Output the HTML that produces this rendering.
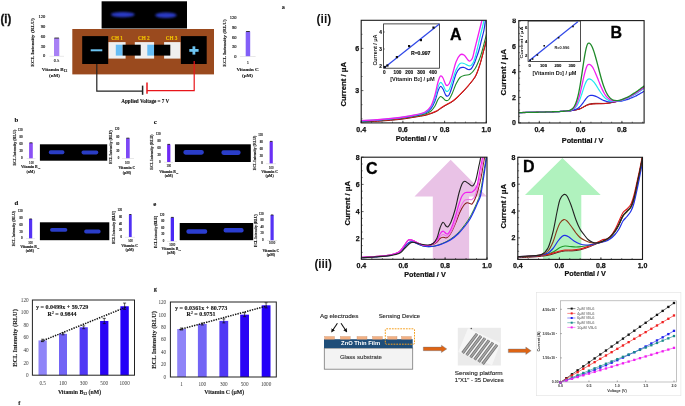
<!DOCTYPE html>
<html><head><meta charset="utf-8"><title>Figure</title>
<style>html,body{margin:0;padding:0;background:#fff;width:685px;height:406px;overflow:hidden} svg{filter:blur(0.45px)}</style>
</head><body>
<svg width="685" height="406" viewBox="0 0 685 406" style="display:block">
<defs><filter id="bl" x="-30%" y="-80%" width="160%" height="260%"><feGaussianBlur stdDeviation="0.6"/></filter><filter id="bl3" x="-40%" y="-100%" width="180%" height="300%"><feGaussianBlur stdDeviation="1.1"/></filter><filter id="bl2" x="-10%" y="-10%" width="120%" height="120%"><feGaussianBlur stdDeviation="0.45"/></filter><clipPath id="cA"><rect x="361.2" y="20.3" width="125.1" height="102.6"/></clipPath><clipPath id="cB"><rect x="518.8" y="20.6" width="125.3" height="102.4"/></clipPath><clipPath id="cC"><rect x="361.4" y="157.2" width="125.6" height="102.1"/></clipPath><clipPath id="cD"><rect x="517.8" y="157.3" width="124.7" height="102.1"/></clipPath></defs>
<rect x="0.00" y="0.00" width="685.00" height="406.00" fill="#fff"/>
<text x="0.5" y="22.5" font-size="13" font-weight="bold" font-family="'Liberation Sans', sans-serif" fill="#111" stroke="#111" stroke-width="0.35" textLength="10.8" lengthAdjust="spacingAndGlyphs">(i)</text>
<rect x="101.60" y="1.30" width="85.40" height="27.20" fill="#000"/>
<ellipse cx="122.8" cy="14.6" rx="12" ry="2.7" fill="#2a3ac4" filter="url(#bl3)"/>
<ellipse cx="165.9" cy="15.3" rx="10.8" ry="2.8" fill="#2a3ac4" filter="url(#bl3)"/>
<rect x="72.30" y="29.00" width="141.70" height="45.40" fill="#9a4a1e"/>
<rect x="82.20" y="36.10" width="26.00" height="27.90" fill="#000"/>
<rect x="180.90" y="36.10" width="25.80" height="27.90" fill="#000"/>
<rect x="90.70" y="49.30" width="11.60" height="2.00" fill="#6cc4f2"/>
<rect x="189.30" y="49.00" width="9.30" height="2.80" fill="#6cc4f2"/>
<rect x="192.50" y="46.30" width="2.80" height="8.30" fill="#6cc4f2"/>
<rect x="108.50" y="42.10" width="17.10" height="16.50" fill="#efefef"/>
<rect x="134.80" y="42.10" width="19.30" height="16.50" fill="#efefef"/>
<rect x="164.10" y="42.10" width="16.30" height="16.50" fill="#efefef"/>
<rect x="115.80" y="44.70" width="6.80" height="10.90" fill="#66bdf5"/>
<rect x="147.30" y="44.70" width="6.80" height="10.90" fill="#66bdf5"/>
<rect x="122.60" y="44.70" width="18.10" height="10.90" fill="#000"/>
<rect x="154.10" y="44.70" width="16.20" height="10.90" fill="#000"/>
<text x="117.00" y="40.27" font-size="5.2" text-anchor="middle" font-weight="bold" font-family="'Liberation Serif', serif" fill="#f2c200" stroke="#f2c200" stroke-width="0.15">CH 1</text>
<text x="143.80" y="40.27" font-size="5.2" text-anchor="middle" font-weight="bold" font-family="'Liberation Serif', serif" fill="#f2c200" stroke="#f2c200" stroke-width="0.15">CH 2</text>
<text x="171.60" y="40.27" font-size="5.2" text-anchor="middle" font-weight="bold" font-family="'Liberation Serif', serif" fill="#f2c200" stroke="#f2c200" stroke-width="0.15">CH 3</text>
<polyline points="96.8,64 96.8,91.1 142.4,91.1" fill="none" stroke="#222" stroke-width="1.2"/>
<line x1="142.60" y1="85.60" x2="142.60" y2="94.80" stroke="#222" stroke-width="1.5"/>
<line x1="147.00" y1="82.50" x2="147.00" y2="93.80" stroke="#e8141a" stroke-width="1.5"/>
<polyline points="147,90.7 194.2,90.7 194.2,61" fill="none" stroke="#e8141a" stroke-width="1.2"/>
<text x="145.30" y="103.09" font-size="5.8" text-anchor="middle" font-weight="bold" font-family="'Liberation Serif', serif" fill="#111" stroke="#222" stroke-width="0.12" textLength="48" lengthAdjust="spacingAndGlyphs">Applied Voltage = 7 V</text>
<text x="283.30" y="9.43" font-size="6.2" text-anchor="middle" font-weight="bold" font-family="'Liberation Serif', serif" fill="#222" stroke="#222" stroke-width="0.12">a</text>
<text x="32.90" y="42.50" font-size="4.73" text-anchor="middle" font-weight="bold" font-family="'Liberation Serif', serif" fill="#222" stroke="#222" stroke-width="0.12" transform="rotate(-90 32.90 42.50)" dy="1.49" textLength="48.60" lengthAdjust="spacingAndGlyphs">ECL Intensity (RLU)</text>
<text x="45.30" y="18.23" font-size="4.5" text-anchor="end" font-family="'Liberation Serif', serif" fill="#222" stroke="#333" stroke-width="0.18">120</text>
<text x="45.30" y="28.23" font-size="4.5" text-anchor="end" font-family="'Liberation Serif', serif" fill="#222" stroke="#333" stroke-width="0.18">90</text>
<text x="45.30" y="38.03" font-size="4.5" text-anchor="end" font-family="'Liberation Serif', serif" fill="#222" stroke="#333" stroke-width="0.18">60</text>
<text x="45.30" y="47.63" font-size="4.5" text-anchor="end" font-family="'Liberation Serif', serif" fill="#222" stroke="#333" stroke-width="0.18">30</text>
<text x="45.30" y="57.43" font-size="4.5" text-anchor="end" font-family="'Liberation Serif', serif" fill="#222" stroke="#333" stroke-width="0.18">0</text>
<line x1="49.50" y1="56.30" x2="64.00" y2="56.30" stroke="#d8d8d8" stroke-width="0.6"/>
<rect x="54.00" y="38.10" width="5.30" height="17.90" fill="#a880f5"/>
<rect x="54.40" y="37.60" width="4.50" height="0.9" fill="#222"/>
<text x="56.50" y="62.03" font-size="4.5" text-anchor="middle" font-family="'Liberation Serif', serif" fill="#333" stroke="#222" stroke-width="0.12">0.5</text>
<text x="54.50" y="71.30" font-size="5.0" text-anchor="middle" font-weight="bold" font-family="'Liberation Serif', serif" fill="#111" stroke="#222" stroke-width="0.12">Vitamin B<tspan font-size="3.50" dy="1.10">12</tspan></text>
<text x="54.50" y="77.10" font-size="5.0" text-anchor="middle" font-weight="bold" font-family="'Liberation Serif', serif" fill="#111" stroke="#222" stroke-width="0.12">(nM)</text>
<text x="224.30" y="43.00" font-size="4.73" text-anchor="middle" font-weight="bold" font-family="'Liberation Serif', serif" fill="#222" stroke="#222" stroke-width="0.12" transform="rotate(-90 224.30 43.00)" dy="1.49" textLength="47.60" lengthAdjust="spacingAndGlyphs">ECL Intensity (RLU)</text>
<text x="236.40" y="18.63" font-size="4.5" text-anchor="end" font-family="'Liberation Serif', serif" fill="#222" stroke="#333" stroke-width="0.18">120</text>
<text x="236.40" y="28.83" font-size="4.5" text-anchor="end" font-family="'Liberation Serif', serif" fill="#222" stroke="#333" stroke-width="0.18">90</text>
<text x="236.40" y="38.73" font-size="4.5" text-anchor="end" font-family="'Liberation Serif', serif" fill="#222" stroke="#333" stroke-width="0.18">60</text>
<text x="236.40" y="48.23" font-size="4.5" text-anchor="end" font-family="'Liberation Serif', serif" fill="#222" stroke="#333" stroke-width="0.18">30</text>
<text x="236.40" y="57.73" font-size="4.5" text-anchor="end" font-family="'Liberation Serif', serif" fill="#222" stroke="#333" stroke-width="0.18">0</text>
<line x1="240.00" y1="56.50" x2="255.60" y2="56.50" stroke="#d8d8d8" stroke-width="0.6"/>
<rect x="245.70" y="31.60" width="4.50" height="24.60" fill="#825ff8"/>
<rect x="246.10" y="31.10" width="3.70" height="0.9" fill="#222"/>
<text x="247.80" y="64.13" font-size="4.5" text-anchor="middle" font-family="'Liberation Serif', serif" fill="#333" stroke="#222" stroke-width="0.12">1</text>
<text x="247.50" y="71.30" font-size="5.0" text-anchor="middle" font-weight="bold" font-family="'Liberation Serif', serif" fill="#111" stroke="#222" stroke-width="0.12">Vitamin C</text>
<text x="247.50" y="77.10" font-size="5.0" text-anchor="middle" font-weight="bold" font-family="'Liberation Serif', serif" fill="#111" stroke="#222" stroke-width="0.12">(μM)</text>
<text x="16.40" y="122.25" font-size="6.8" text-anchor="middle" font-weight="bold" font-family="'Liberation Serif', serif" fill="#111" stroke="#222" stroke-width="0.12">b</text>
<text x="14.50" y="147.65" font-size="3.26" text-anchor="middle" font-weight="bold" font-family="'Liberation Serif', serif" fill="#222" stroke="#222" stroke-width="0.12" transform="rotate(-90 14.50 147.65)" dy="1.02" textLength="35.90" lengthAdjust="spacingAndGlyphs">ECL Intensity (RLU)</text>
<text x="22.60" y="131.25" font-size="3.1" text-anchor="end" font-family="'Liberation Serif', serif" fill="#222" stroke="#333" stroke-width="0.18">120</text>
<text x="22.60" y="138.15" font-size="3.1" text-anchor="end" font-family="'Liberation Serif', serif" fill="#222" stroke="#333" stroke-width="0.18">80</text>
<text x="22.60" y="145.15" font-size="3.1" text-anchor="end" font-family="'Liberation Serif', serif" fill="#222" stroke="#333" stroke-width="0.18">60</text>
<text x="22.60" y="152.15" font-size="3.1" text-anchor="end" font-family="'Liberation Serif', serif" fill="#222" stroke="#333" stroke-width="0.18">30</text>
<text x="22.60" y="159.05" font-size="3.1" text-anchor="end" font-family="'Liberation Serif', serif" fill="#222" stroke="#333" stroke-width="0.18">0</text>
<line x1="26.60" y1="158.60" x2="35.40" y2="158.60" stroke="#d8d8d8" stroke-width="0.6"/>
<rect x="29.10" y="142.90" width="3.70" height="15.40" fill="#8a50f5"/>
<rect x="29.50" y="142.40" width="2.90" height="0.9" fill="#222"/>
<text x="31.40" y="163.85" font-size="3.1" text-anchor="middle" font-family="'Liberation Serif', serif" fill="#333" stroke="#222" stroke-width="0.12">100</text>
<text x="30.60" y="168.49" font-size="3.8" text-anchor="middle" font-weight="bold" font-family="'Liberation Serif', serif" fill="#111" stroke="#222" stroke-width="0.12">Vitamin B<tspan font-size="2.66" dy="0.84">12</tspan></text>
<text x="30.60" y="172.69" font-size="3.8" text-anchor="middle" font-weight="bold" font-family="'Liberation Serif', serif" fill="#111" stroke="#222" stroke-width="0.12">(nM)</text>
<rect x="39.90" y="144.30" width="67.30" height="16.40" fill="#000"/>
<rect x="48.80" y="150.20" width="15.60" height="4.00" rx="1.80" fill="#2a3cc4" filter="url(#bl)"/>
<rect x="81.50" y="150.40" width="16.80" height="4.00" rx="1.80" fill="#2a3cc4" filter="url(#bl)"/>
<text x="111.00" y="147.00" font-size="3.26" text-anchor="middle" font-weight="bold" font-family="'Liberation Serif', serif" fill="#222" stroke="#222" stroke-width="0.12" transform="rotate(-90 111.00 147.00)" dy="1.02" textLength="33.60" lengthAdjust="spacingAndGlyphs">ECL Intensity (RLU)</text>
<text x="119.30" y="130.45" font-size="3.1" text-anchor="end" font-family="'Liberation Serif', serif" fill="#222" stroke="#333" stroke-width="0.18">120</text>
<text x="119.30" y="137.65" font-size="3.1" text-anchor="end" font-family="'Liberation Serif', serif" fill="#222" stroke="#333" stroke-width="0.18">80</text>
<text x="119.30" y="145.15" font-size="3.1" text-anchor="end" font-family="'Liberation Serif', serif" fill="#222" stroke="#333" stroke-width="0.18">60</text>
<text x="119.30" y="152.05" font-size="3.1" text-anchor="end" font-family="'Liberation Serif', serif" fill="#222" stroke="#333" stroke-width="0.18">30</text>
<text x="119.30" y="159.25" font-size="3.1" text-anchor="end" font-family="'Liberation Serif', serif" fill="#222" stroke="#333" stroke-width="0.18">0</text>
<line x1="122.00" y1="158.50" x2="134.00" y2="158.50" stroke="#d8d8d8" stroke-width="0.6"/>
<rect x="126.00" y="138.20" width="3.70" height="20.00" fill="#7c48f6"/>
<rect x="126.40" y="137.70" width="2.90" height="0.9" fill="#222"/>
<text x="127.30" y="163.75" font-size="3.1" text-anchor="middle" font-family="'Liberation Serif', serif" fill="#333" stroke="#222" stroke-width="0.12">100</text>
<text x="126.90" y="169.19" font-size="3.8" text-anchor="middle" font-weight="bold" font-family="'Liberation Serif', serif" fill="#111" stroke="#222" stroke-width="0.12">Vitamin C</text>
<text x="126.90" y="173.59" font-size="3.8" text-anchor="middle" font-weight="bold" font-family="'Liberation Serif', serif" fill="#111" stroke="#222" stroke-width="0.12">(μM)</text>
<text x="155.20" y="123.55" font-size="6.8" text-anchor="middle" font-weight="bold" font-family="'Liberation Serif', serif" fill="#111" stroke="#222" stroke-width="0.12">c</text>
<text x="152.20" y="152.05" font-size="3.26" text-anchor="middle" font-weight="bold" font-family="'Liberation Serif', serif" fill="#222" stroke="#222" stroke-width="0.12" transform="rotate(-90 152.20 152.05)" dy="1.02" textLength="35.30" lengthAdjust="spacingAndGlyphs">ECL Intensity (RLU)</text>
<text x="160.60" y="134.85" font-size="3.1" text-anchor="end" font-family="'Liberation Serif', serif" fill="#222" stroke="#333" stroke-width="0.18">120</text>
<text x="160.60" y="141.85" font-size="3.1" text-anchor="end" font-family="'Liberation Serif', serif" fill="#222" stroke="#333" stroke-width="0.18">80</text>
<text x="160.60" y="148.95" font-size="3.1" text-anchor="end" font-family="'Liberation Serif', serif" fill="#222" stroke="#333" stroke-width="0.18">60</text>
<text x="160.60" y="155.95" font-size="3.1" text-anchor="end" font-family="'Liberation Serif', serif" fill="#222" stroke="#333" stroke-width="0.18">30</text>
<text x="160.60" y="163.05" font-size="3.1" text-anchor="end" font-family="'Liberation Serif', serif" fill="#222" stroke="#333" stroke-width="0.18">0</text>
<line x1="164.00" y1="162.30" x2="173.00" y2="162.30" stroke="#d8d8d8" stroke-width="0.6"/>
<rect x="167.10" y="144.40" width="3.30" height="17.60" fill="#6e28f5"/>
<rect x="167.50" y="143.90" width="2.50" height="0.9" fill="#222"/>
<text x="168.80" y="167.25" font-size="3.1" text-anchor="middle" font-family="'Liberation Serif', serif" fill="#333" stroke="#222" stroke-width="0.12">100</text>
<text x="168.80" y="173.19" font-size="3.8" text-anchor="middle" font-weight="bold" font-family="'Liberation Serif', serif" fill="#111" stroke="#222" stroke-width="0.12">Vitamin B<tspan font-size="2.66" dy="0.84">12</tspan></text>
<text x="168.80" y="177.49" font-size="3.8" text-anchor="middle" font-weight="bold" font-family="'Liberation Serif', serif" fill="#111" stroke="#222" stroke-width="0.12">(nM)</text>
<rect x="174.90" y="144.30" width="75.90" height="17.70" fill="#000"/>
<rect x="183.40" y="149.90" width="20.40" height="4.80" rx="2.16" fill="#2a3cc8" filter="url(#bl)"/>
<rect x="221.40" y="150.20" width="19.20" height="4.80" rx="2.16" fill="#2a3cc8" filter="url(#bl)"/>
<text x="254.50" y="153.05" font-size="3.26" text-anchor="middle" font-weight="bold" font-family="'Liberation Serif', serif" fill="#222" stroke="#222" stroke-width="0.12" transform="rotate(-90 254.50 153.05)" dy="1.02" textLength="34.50" lengthAdjust="spacingAndGlyphs">ECL Intensity (RLU)</text>
<text x="262.80" y="136.05" font-size="3.1" text-anchor="end" font-family="'Liberation Serif', serif" fill="#222" stroke="#333" stroke-width="0.18">120</text>
<text x="262.80" y="143.25" font-size="3.1" text-anchor="end" font-family="'Liberation Serif', serif" fill="#222" stroke="#333" stroke-width="0.18">80</text>
<text x="262.80" y="150.15" font-size="3.1" text-anchor="end" font-family="'Liberation Serif', serif" fill="#222" stroke="#333" stroke-width="0.18">60</text>
<text x="262.80" y="157.35" font-size="3.1" text-anchor="end" font-family="'Liberation Serif', serif" fill="#222" stroke="#333" stroke-width="0.18">30</text>
<text x="262.80" y="164.45" font-size="3.1" text-anchor="end" font-family="'Liberation Serif', serif" fill="#222" stroke="#333" stroke-width="0.18">0</text>
<line x1="266.00" y1="163.70" x2="276.00" y2="163.70" stroke="#d8d8d8" stroke-width="0.6"/>
<rect x="269.60" y="141.40" width="3.20" height="22.00" fill="#6a30f5"/>
<rect x="270.00" y="140.90" width="2.40" height="0.9" fill="#222"/>
<text x="271.20" y="168.55" font-size="3.1" text-anchor="middle" font-family="'Liberation Serif', serif" fill="#333" stroke="#222" stroke-width="0.12">100</text>
<text x="269.60" y="172.69" font-size="3.8" text-anchor="middle" font-weight="bold" font-family="'Liberation Serif', serif" fill="#111" stroke="#222" stroke-width="0.12">Vitamin C</text>
<text x="269.60" y="176.79" font-size="3.8" text-anchor="middle" font-weight="bold" font-family="'Liberation Serif', serif" fill="#111" stroke="#222" stroke-width="0.12">(μM)</text>
<text x="16.40" y="204.85" font-size="6.8" text-anchor="middle" font-weight="bold" font-family="'Liberation Serif', serif" fill="#111" stroke="#222" stroke-width="0.12">d</text>
<text x="14.30" y="228.65" font-size="3.26" text-anchor="middle" font-weight="bold" font-family="'Liberation Serif', serif" fill="#222" stroke="#222" stroke-width="0.12" transform="rotate(-90 14.30 228.65)" dy="1.02" textLength="35.30" lengthAdjust="spacingAndGlyphs">ECL Intensity (RLU)</text>
<text x="22.60" y="212.05" font-size="3.1" text-anchor="end" font-family="'Liberation Serif', serif" fill="#222" stroke="#333" stroke-width="0.18">120</text>
<text x="22.60" y="219.25" font-size="3.1" text-anchor="end" font-family="'Liberation Serif', serif" fill="#222" stroke="#333" stroke-width="0.18">80</text>
<text x="22.60" y="226.15" font-size="3.1" text-anchor="end" font-family="'Liberation Serif', serif" fill="#222" stroke="#333" stroke-width="0.18">60</text>
<text x="22.60" y="232.95" font-size="3.1" text-anchor="end" font-family="'Liberation Serif', serif" fill="#222" stroke="#333" stroke-width="0.18">20</text>
<text x="22.60" y="239.35" font-size="3.1" text-anchor="end" font-family="'Liberation Serif', serif" fill="#222" stroke="#333" stroke-width="0.18">0</text>
<line x1="26.00" y1="238.60" x2="35.00" y2="238.60" stroke="#d8d8d8" stroke-width="0.6"/>
<rect x="29.00" y="219.00" width="3.20" height="19.30" fill="#5532f5"/>
<rect x="29.40" y="218.50" width="2.40" height="0.9" fill="#222"/>
<text x="30.60" y="243.85" font-size="3.1" text-anchor="middle" font-family="'Liberation Serif', serif" fill="#333" stroke="#222" stroke-width="0.12">300</text>
<text x="29.80" y="247.89" font-size="3.8" text-anchor="middle" font-weight="bold" font-family="'Liberation Serif', serif" fill="#111" stroke="#222" stroke-width="0.12">Vitamin B<tspan font-size="2.66" dy="0.84">12</tspan></text>
<text x="29.80" y="252.39" font-size="3.8" text-anchor="middle" font-weight="bold" font-family="'Liberation Serif', serif" fill="#111" stroke="#222" stroke-width="0.12">(nM)</text>
<rect x="39.90" y="222.30" width="69.40" height="17.90" fill="#000"/>
<rect x="50.10" y="228.00" width="17.20" height="3.80" rx="1.71" fill="#2a3cc8" filter="url(#bl)"/>
<rect x="84.20" y="229.50" width="16.40" height="4.00" rx="1.80" fill="#2a3cc8" filter="url(#bl)"/>
<text x="114.10" y="227.40" font-size="3.26" text-anchor="middle" font-weight="bold" font-family="'Liberation Serif', serif" fill="#222" stroke="#222" stroke-width="0.12" transform="rotate(-90 114.10 227.40)" dy="1.02" textLength="32.80" lengthAdjust="spacingAndGlyphs">ECL Intensity (RLU)</text>
<text x="122.10" y="210.75" font-size="3.1" text-anchor="end" font-family="'Liberation Serif', serif" fill="#222" stroke="#333" stroke-width="0.18">120</text>
<text x="122.10" y="217.65" font-size="3.1" text-anchor="end" font-family="'Liberation Serif', serif" fill="#222" stroke="#333" stroke-width="0.18">80</text>
<text x="122.10" y="224.85" font-size="3.1" text-anchor="end" font-family="'Liberation Serif', serif" fill="#222" stroke="#333" stroke-width="0.18">40</text>
<text x="122.10" y="231.25" font-size="3.1" text-anchor="end" font-family="'Liberation Serif', serif" fill="#222" stroke="#333" stroke-width="0.18">20</text>
<text x="122.10" y="238.05" font-size="3.1" text-anchor="end" font-family="'Liberation Serif', serif" fill="#222" stroke="#333" stroke-width="0.18">0</text>
<line x1="125.00" y1="237.30" x2="135.00" y2="237.30" stroke="#d8d8d8" stroke-width="0.6"/>
<rect x="128.90" y="214.50" width="2.80" height="22.50" fill="#5030f5"/>
<rect x="129.30" y="214.00" width="2.00" height="0.9" fill="#222"/>
<text x="130.50" y="241.65" font-size="3.1" text-anchor="middle" font-family="'Liberation Serif', serif" fill="#333" stroke="#222" stroke-width="0.12">500</text>
<text x="129.70" y="246.69" font-size="3.8" text-anchor="middle" font-weight="bold" font-family="'Liberation Serif', serif" fill="#111" stroke="#222" stroke-width="0.12">Vitamin C</text>
<text x="129.70" y="251.19" font-size="3.8" text-anchor="middle" font-weight="bold" font-family="'Liberation Serif', serif" fill="#111" stroke="#222" stroke-width="0.12">(μM)</text>
<text x="154.70" y="205.75" font-size="6.8" text-anchor="middle" font-weight="bold" font-family="'Liberation Serif', serif" fill="#111" stroke="#222" stroke-width="0.12">e</text>
<text x="156.00" y="231.85" font-size="3.26" text-anchor="middle" font-weight="bold" font-family="'Liberation Serif', serif" fill="#222" stroke="#222" stroke-width="0.12" transform="rotate(-90 156.00 231.85)" dy="1.02" textLength="32.10" lengthAdjust="spacingAndGlyphs">ECL Intensity (RLU)</text>
<text x="164.30" y="216.05" font-size="3.1" text-anchor="end" font-family="'Liberation Serif', serif" fill="#222" stroke="#333" stroke-width="0.18">120</text>
<text x="164.30" y="222.45" font-size="3.1" text-anchor="end" font-family="'Liberation Serif', serif" fill="#222" stroke="#333" stroke-width="0.18">80</text>
<text x="164.30" y="228.85" font-size="3.1" text-anchor="end" font-family="'Liberation Serif', serif" fill="#222" stroke="#333" stroke-width="0.18">60</text>
<text x="164.30" y="235.25" font-size="3.1" text-anchor="end" font-family="'Liberation Serif', serif" fill="#222" stroke="#333" stroke-width="0.18">30</text>
<text x="164.30" y="242.15" font-size="3.1" text-anchor="end" font-family="'Liberation Serif', serif" fill="#222" stroke="#333" stroke-width="0.18">0</text>
<line x1="167.00" y1="241.40" x2="177.00" y2="241.40" stroke="#d8d8d8" stroke-width="0.6"/>
<rect x="170.70" y="217.40" width="3.30" height="23.70" fill="#4a28f5"/>
<rect x="171.10" y="216.90" width="2.50" height="0.9" fill="#222"/>
<text x="172.30" y="245.65" font-size="3.1" text-anchor="middle" font-family="'Liberation Serif', serif" fill="#333" stroke="#222" stroke-width="0.12">1000</text>
<text x="171.20" y="250.39" font-size="3.8" text-anchor="middle" font-weight="bold" font-family="'Liberation Serif', serif" fill="#111" stroke="#222" stroke-width="0.12">Vitamin B<tspan font-size="2.66" dy="0.84">12</tspan></text>
<text x="171.20" y="254.29" font-size="3.8" text-anchor="middle" font-weight="bold" font-family="'Liberation Serif', serif" fill="#111" stroke="#222" stroke-width="0.12">(nM)</text>
<rect x="179.70" y="223.00" width="73.50" height="17.20" fill="#000"/>
<rect x="186.40" y="229.30" width="20.80" height="4.40" rx="1.98" fill="#2c3ed0" filter="url(#bl)"/>
<rect x="223.60" y="228.00" width="20.00" height="4.40" rx="1.98" fill="#2c3ed0" filter="url(#bl)"/>
<text x="256.40" y="230.60" font-size="3.26" text-anchor="middle" font-weight="bold" font-family="'Liberation Serif', serif" fill="#222" stroke="#222" stroke-width="0.12" transform="rotate(-90 256.40 230.60)" dy="1.02" textLength="32.80" lengthAdjust="spacingAndGlyphs">ECL Intensity (RLU)</text>
<text x="263.60" y="214.95" font-size="3.1" text-anchor="end" font-family="'Liberation Serif', serif" fill="#222" stroke="#333" stroke-width="0.18">120</text>
<text x="263.60" y="221.35" font-size="3.1" text-anchor="end" font-family="'Liberation Serif', serif" fill="#222" stroke="#333" stroke-width="0.18">80</text>
<text x="263.60" y="228.05" font-size="3.1" text-anchor="end" font-family="'Liberation Serif', serif" fill="#222" stroke="#333" stroke-width="0.18">40</text>
<text x="263.60" y="234.45" font-size="3.1" text-anchor="end" font-family="'Liberation Serif', serif" fill="#222" stroke="#333" stroke-width="0.18">20</text>
<text x="263.60" y="241.25" font-size="3.1" text-anchor="end" font-family="'Liberation Serif', serif" fill="#222" stroke="#333" stroke-width="0.18">0</text>
<line x1="267.00" y1="240.50" x2="277.00" y2="240.50" stroke="#d8d8d8" stroke-width="0.6"/>
<rect x="270.50" y="215.00" width="3.20" height="25.20" fill="#5532f5"/>
<rect x="270.90" y="214.50" width="2.40" height="0.9" fill="#222"/>
<text x="272.10" y="244.45" font-size="3.1" text-anchor="middle" font-family="'Liberation Serif', serif" fill="#333" stroke="#222" stroke-width="0.12">1000</text>
<text x="270.90" y="251.99" font-size="3.8" text-anchor="middle" font-weight="bold" font-family="'Liberation Serif', serif" fill="#111" stroke="#222" stroke-width="0.12">Vitamin C</text>
<text x="270.90" y="256.29" font-size="3.8" text-anchor="middle" font-weight="bold" font-family="'Liberation Serif', serif" fill="#111" stroke="#222" stroke-width="0.12">(μM)</text>
<text x="28.60" y="377.07" font-size="5.2" text-anchor="end" font-weight="normal" font-family="'Liberation Serif', serif" fill="#333">0</text>
<text x="28.60" y="364.54" font-size="5.2" text-anchor="end" font-weight="normal" font-family="'Liberation Serif', serif" fill="#333">20</text>
<text x="28.60" y="352.01" font-size="5.2" text-anchor="end" font-weight="normal" font-family="'Liberation Serif', serif" fill="#333">40</text>
<text x="28.60" y="339.47" font-size="5.2" text-anchor="end" font-weight="normal" font-family="'Liberation Serif', serif" fill="#333">60</text>
<text x="28.60" y="326.94" font-size="5.2" text-anchor="end" font-weight="normal" font-family="'Liberation Serif', serif" fill="#333">80</text>
<text x="28.60" y="314.41" font-size="5.2" text-anchor="end" font-weight="normal" font-family="'Liberation Serif', serif" fill="#333">100</text>
<text x="28.60" y="301.87" font-size="5.2" text-anchor="end" font-weight="normal" font-family="'Liberation Serif', serif" fill="#333">120</text>
<rect x="38.50" y="340.42" width="8.30" height="34.78" fill="#8f84f8"/>
<text x="42.65" y="384.67" font-size="5.2" text-anchor="middle" font-weight="normal" font-family="'Liberation Serif', serif" fill="#333">0.5</text>
<line x1="42.65" y1="339.22" x2="42.65" y2="341.62" stroke="#111" stroke-width="0.7"/>
<line x1="41.15" y1="339.22" x2="44.15" y2="339.22" stroke="#111" stroke-width="0.7"/>
<line x1="41.15" y1="341.62" x2="44.15" y2="341.62" stroke="#111" stroke-width="0.7"/>
<rect x="59.00" y="333.84" width="8.00" height="41.36" fill="#7264f5"/>
<text x="63.00" y="384.67" font-size="5.2" text-anchor="middle" font-weight="normal" font-family="'Liberation Serif', serif" fill="#333">100</text>
<line x1="63.00" y1="332.84" x2="63.00" y2="334.84" stroke="#111" stroke-width="0.7"/>
<line x1="61.50" y1="332.84" x2="64.50" y2="332.84" stroke="#111" stroke-width="0.7"/>
<line x1="61.50" y1="334.84" x2="64.50" y2="334.84" stroke="#111" stroke-width="0.7"/>
<rect x="79.60" y="327.26" width="8.20" height="47.94" fill="#5038f5"/>
<text x="83.70" y="384.67" font-size="5.2" text-anchor="middle" font-weight="normal" font-family="'Liberation Serif', serif" fill="#333">300</text>
<line x1="83.70" y1="325.86" x2="83.70" y2="328.66" stroke="#111" stroke-width="0.7"/>
<line x1="82.20" y1="325.86" x2="85.20" y2="325.86" stroke="#111" stroke-width="0.7"/>
<line x1="82.20" y1="328.66" x2="85.20" y2="328.66" stroke="#111" stroke-width="0.7"/>
<rect x="100.10" y="320.99" width="8.30" height="54.21" fill="#2a04f5"/>
<text x="104.25" y="384.67" font-size="5.2" text-anchor="middle" font-weight="normal" font-family="'Liberation Serif', serif" fill="#333">500</text>
<line x1="104.25" y1="318.39" x2="104.25" y2="323.59" stroke="#111" stroke-width="0.7"/>
<line x1="102.75" y1="318.39" x2="105.75" y2="318.39" stroke="#111" stroke-width="0.7"/>
<line x1="102.75" y1="323.59" x2="105.75" y2="323.59" stroke="#111" stroke-width="0.7"/>
<rect x="120.40" y="306.27" width="8.40" height="68.93" fill="#2400f8"/>
<text x="124.60" y="384.67" font-size="5.2" text-anchor="middle" font-weight="normal" font-family="'Liberation Serif', serif" fill="#333">1000</text>
<line x1="124.60" y1="303.07" x2="124.60" y2="309.47" stroke="#111" stroke-width="0.7"/>
<line x1="123.10" y1="303.07" x2="126.10" y2="303.07" stroke="#111" stroke-width="0.7"/>
<line x1="123.10" y1="309.47" x2="126.10" y2="309.47" stroke="#111" stroke-width="0.7"/>
<rect x="32.40" y="300.00" width="102.10" height="75.20" fill="none" stroke="#222" stroke-width="1.0"/>
<line x1="41.00" y1="341.40" x2="125.80" y2="307.20" stroke="#111" stroke-width="1.5" stroke-dasharray="1.4 1.1"/>
<text x="36.00" y="309.32" font-size="5.9" text-anchor="start" font-weight="bold" font-family="'Liberation Serif', serif" fill="#111" stroke="#222" stroke-width="0.12" textLength="52.4" lengthAdjust="spacingAndGlyphs">y = 0.0499x + 59.729</text>
<text x="47.60" y="316.12" font-size="5.9" font-weight="bold" font-family="'Liberation Serif', serif" fill="#111" stroke="#222" stroke-width="0.12" textLength="29" lengthAdjust="spacingAndGlyphs">R<tspan font-size="3.6" dy="-2.2">2</tspan><tspan dy="2.2"> = 0.9844</tspan></text>
<text x="15.00" y="338.00" dy="2.11" font-size="6.2" text-anchor="middle" font-weight="bold" font-family="'Liberation Serif', serif" fill="#222" stroke="#222" stroke-width="0.12" transform="rotate(-90 15.00 338.00)" textLength="57.5" lengthAdjust="spacingAndGlyphs">ECL Intensity (RLU)</text>
<text x="79.50" y="393.79" font-size="5.8" text-anchor="middle" font-weight="bold" font-family="'Liberation Serif', serif" fill="#222" stroke="#222" stroke-width="0.12">Vitamin B<tspan font-size="3.8" dy="1">12</tspan><tspan dy="-1"> (nM)</tspan></text>
<text x="19.30" y="404.50" font-size="6.4" text-anchor="middle" font-weight="bold" font-family="'Liberation Serif', serif" fill="#222" stroke="#222" stroke-width="0.12">f</text>
<text x="166.20" y="378.87" font-size="5.2" text-anchor="end" font-weight="normal" font-family="'Liberation Serif', serif" fill="#333">0</text>
<text x="166.20" y="366.41" font-size="5.2" text-anchor="end" font-weight="normal" font-family="'Liberation Serif', serif" fill="#333">20</text>
<text x="166.20" y="353.94" font-size="5.2" text-anchor="end" font-weight="normal" font-family="'Liberation Serif', serif" fill="#333">40</text>
<text x="166.20" y="341.47" font-size="5.2" text-anchor="end" font-weight="normal" font-family="'Liberation Serif', serif" fill="#333">60</text>
<text x="166.20" y="329.01" font-size="5.2" text-anchor="end" font-weight="normal" font-family="'Liberation Serif', serif" fill="#333">80</text>
<text x="166.20" y="316.54" font-size="5.2" text-anchor="end" font-weight="normal" font-family="'Liberation Serif', serif" fill="#333">100</text>
<text x="166.20" y="304.07" font-size="5.2" text-anchor="end" font-weight="normal" font-family="'Liberation Serif', serif" fill="#333">120</text>
<rect x="177.20" y="329.00" width="8.80" height="48.00" fill="#8f84f8"/>
<text x="181.60" y="386.07" font-size="5.2" text-anchor="middle" font-weight="normal" font-family="'Liberation Serif', serif" fill="#333">1</text>
<line x1="181.60" y1="328.00" x2="181.60" y2="330.00" stroke="#111" stroke-width="0.7"/>
<line x1="180.10" y1="328.00" x2="183.10" y2="328.00" stroke="#111" stroke-width="0.7"/>
<line x1="180.10" y1="330.00" x2="183.10" y2="330.00" stroke="#111" stroke-width="0.7"/>
<rect x="197.90" y="324.02" width="8.80" height="52.98" fill="#7264f5"/>
<text x="202.30" y="386.07" font-size="5.2" text-anchor="middle" font-weight="normal" font-family="'Liberation Serif', serif" fill="#333">100</text>
<line x1="202.30" y1="323.02" x2="202.30" y2="325.02" stroke="#111" stroke-width="0.7"/>
<line x1="200.80" y1="323.02" x2="203.80" y2="323.02" stroke="#111" stroke-width="0.7"/>
<line x1="200.80" y1="325.02" x2="203.80" y2="325.02" stroke="#111" stroke-width="0.7"/>
<rect x="219.40" y="320.90" width="8.80" height="56.10" fill="#5038f5"/>
<text x="223.80" y="386.07" font-size="5.2" text-anchor="middle" font-weight="normal" font-family="'Liberation Serif', serif" fill="#333">300</text>
<line x1="223.80" y1="318.90" x2="223.80" y2="322.90" stroke="#111" stroke-width="0.7"/>
<line x1="222.30" y1="318.90" x2="225.30" y2="318.90" stroke="#111" stroke-width="0.7"/>
<line x1="222.30" y1="322.90" x2="225.30" y2="322.90" stroke="#111" stroke-width="0.7"/>
<rect x="240.20" y="314.67" width="8.80" height="62.33" fill="#2a04f5"/>
<text x="244.60" y="386.07" font-size="5.2" text-anchor="middle" font-weight="normal" font-family="'Liberation Serif', serif" fill="#333">500</text>
<line x1="244.60" y1="312.67" x2="244.60" y2="316.67" stroke="#111" stroke-width="0.7"/>
<line x1="243.10" y1="312.67" x2="246.10" y2="312.67" stroke="#111" stroke-width="0.7"/>
<line x1="243.10" y1="316.67" x2="246.10" y2="316.67" stroke="#111" stroke-width="0.7"/>
<rect x="261.70" y="305.32" width="8.80" height="71.68" fill="#2400f8"/>
<text x="266.10" y="386.07" font-size="5.2" text-anchor="middle" font-weight="normal" font-family="'Liberation Serif', serif" fill="#333">1000</text>
<line x1="266.10" y1="302.72" x2="266.10" y2="307.92" stroke="#111" stroke-width="0.7"/>
<line x1="264.60" y1="302.72" x2="267.60" y2="302.72" stroke="#111" stroke-width="0.7"/>
<line x1="264.60" y1="307.92" x2="267.60" y2="307.92" stroke="#111" stroke-width="0.7"/>
<rect x="170.40" y="302.00" width="105.90" height="75.00" fill="none" stroke="#222" stroke-width="1.0"/>
<line x1="179.50" y1="329.60" x2="266.70" y2="306.00" stroke="#111" stroke-width="1.5" stroke-dasharray="1.4 1.1"/>
<text x="175.00" y="309.72" font-size="5.9" text-anchor="start" font-weight="bold" font-family="'Liberation Serif', serif" fill="#111" stroke="#222" stroke-width="0.12" textLength="52.4" lengthAdjust="spacingAndGlyphs">y = 0.0361x + 80.773</text>
<text x="186.60" y="316.32" font-size="5.9" font-weight="bold" font-family="'Liberation Serif', serif" fill="#111" stroke="#222" stroke-width="0.12" textLength="29" lengthAdjust="spacingAndGlyphs">R<tspan font-size="3.6" dy="-2.2">2</tspan><tspan dy="2.2"> = 0.9751</tspan></text>
<text x="154.30" y="339.90" dy="2.11" font-size="6.2" text-anchor="middle" font-weight="bold" font-family="'Liberation Serif', serif" fill="#222" stroke="#222" stroke-width="0.12" transform="rotate(-90 154.30 339.90)" textLength="57.5" lengthAdjust="spacingAndGlyphs">ECL Intensity (RLU)</text>
<text x="224.20" y="394.39" font-size="5.8" text-anchor="middle" font-weight="bold" font-family="'Liberation Serif', serif" fill="#222" stroke="#222" stroke-width="0.12">Vitamin C (μM)</text>
<text x="155.40" y="290.83" font-size="6.2" text-anchor="middle" font-weight="bold" font-family="'Liberation Serif', serif" fill="#222" stroke="#222" stroke-width="0.12">g</text>
<text x="316.6" y="23.2" font-size="12" font-weight="bold" font-family="'Liberation Sans', sans-serif" fill="#111" textLength="14.6" lengthAdjust="spacingAndGlyphs">(ii)</text>
<text x="314.4" y="267.9" font-size="12" font-weight="bold" font-family="'Liberation Sans', sans-serif" fill="#111" textLength="17.6" lengthAdjust="spacingAndGlyphs">(iii)</text>
<g clip-path="url(#cA)">
<path d="M361.20,122.00 C364.33,121.85 373.53,121.53 380.00,121.10 C386.47,120.67 394.17,120.07 400.00,119.40 C405.83,118.73 410.83,117.77 415.00,117.10 C419.17,116.43 422.33,115.98 425.00,115.40 C427.67,114.82 429.00,114.32 431.00,113.60 C433.00,112.88 435.17,112.10 437.00,111.10 C438.83,110.10 440.33,108.68 442.00,107.60 C443.67,106.52 445.33,105.55 447.00,104.60 C448.67,103.65 450.33,103.02 452.00,101.90 C453.67,100.78 455.33,99.40 457.00,97.90 C458.67,96.40 460.33,94.65 462.00,92.90 C463.67,91.15 465.33,89.32 467.00,87.40 C468.67,85.48 470.50,83.40 472.00,81.40 C473.50,79.40 474.67,78.23 476.00,75.40 C477.33,72.57 478.70,68.57 480.00,64.40 C481.30,60.23 482.72,54.40 483.80,50.40 C484.88,46.40 485.80,42.90 486.50,40.40 C487.20,37.90 487.75,36.23 488.00,35.40" fill="none" stroke="#5a1010" stroke-width="1.0" stroke-linejoin="round"/>
<path d="M361.20,121.60 C364.33,121.45 373.53,121.13 380.00,120.70 C386.47,120.27 394.17,119.67 400.00,119.00 C405.83,118.33 410.83,117.37 415.00,116.70 C419.17,116.03 422.33,115.58 425.00,115.00 C427.67,114.42 429.00,113.92 431.00,113.20 C433.00,112.48 435.17,111.70 437.00,110.70 C438.83,109.70 440.33,108.28 442.00,107.20 C443.67,106.12 445.33,105.15 447.00,104.20 C448.67,103.25 450.33,102.62 452.00,101.50 C453.67,100.38 455.33,99.00 457.00,97.50 C458.67,96.00 460.33,94.25 462.00,92.50 C463.67,90.75 465.33,88.92 467.00,87.00 C468.67,85.08 470.50,83.00 472.00,81.00 C473.50,79.00 474.67,77.83 476.00,75.00 C477.33,72.17 478.70,68.17 480.00,64.00 C481.30,59.83 482.72,54.00 483.80,50.00 C484.88,46.00 485.80,42.50 486.50,40.00 C487.20,37.50 487.75,35.83 488.00,35.00" fill="none" stroke="#e01818" stroke-width="1.1" stroke-linejoin="round"/>
<path d="M361.20,121.30 C364.33,121.12 373.53,120.70 380.00,120.20 C386.47,119.70 394.17,119.00 400.00,118.30 C405.83,117.60 410.83,116.72 415.00,116.00 C419.17,115.28 422.33,114.83 425.00,114.00 C427.67,113.17 429.33,112.33 431.00,111.00 C432.67,109.67 433.83,107.92 435.00,106.00 C436.17,104.08 437.08,101.08 438.00,99.50 C438.92,97.92 439.67,96.75 440.50,96.50 C441.33,96.25 442.08,97.33 443.00,98.00 C443.92,98.67 445.00,100.25 446.00,100.50 C447.00,100.75 448.00,100.58 449.00,99.50 C450.00,98.42 450.83,96.58 452.00,94.00 C453.17,91.42 454.67,86.75 456.00,84.00 C457.33,81.25 458.50,78.97 460.00,77.50 C461.50,76.03 463.33,75.73 465.00,75.20 C466.67,74.67 468.33,75.37 470.00,74.30 C471.67,73.23 473.33,71.57 475.00,68.80 C476.67,66.03 478.77,60.83 480.00,57.70 C481.23,54.57 481.65,52.62 482.40,50.00 C483.15,47.38 483.73,45.00 484.50,42.00 C485.27,39.00 486.58,33.67 487.00,32.00" fill="none" stroke="#1f8a2a" stroke-width="1.1" stroke-linejoin="round"/>
<path d="M361.20,121.00 C364.33,120.83 373.53,120.50 380.00,120.00 C386.47,119.50 394.17,118.75 400.00,118.00 C405.83,117.25 410.83,116.33 415.00,115.50 C419.17,114.67 422.33,114.17 425.00,113.00 C427.67,111.83 429.33,110.50 431.00,108.50 C432.67,106.50 433.83,103.92 435.00,101.00 C436.17,98.08 437.08,93.42 438.00,91.00 C438.92,88.58 439.67,86.83 440.50,86.50 C441.33,86.17 442.08,87.50 443.00,89.00 C443.92,90.50 445.00,94.50 446.00,95.50 C447.00,96.50 448.00,96.42 449.00,95.00 C450.00,93.58 450.83,90.50 452.00,87.00 C453.17,83.50 454.67,77.17 456.00,74.00 C457.33,70.83 458.67,69.08 460.00,68.00 C461.33,66.92 462.67,67.25 464.00,67.50 C465.33,67.75 466.83,69.25 468.00,69.50 C469.17,69.75 470.00,69.92 471.00,69.00 C472.00,68.08 473.00,66.17 474.00,64.00 C475.00,61.83 476.17,58.33 477.00,56.00 C477.83,53.67 478.25,52.67 479.00,50.00 C479.75,47.33 480.67,43.33 481.50,40.00 C482.33,36.67 483.33,33.33 484.00,30.00 C484.67,26.67 485.08,22.67 485.50,20.00 C485.92,17.33 486.33,15.00 486.50,14.00" fill="none" stroke="#1f2fe8" stroke-width="1.2" stroke-linejoin="round"/>
<path d="M361.20,120.80 C364.33,120.62 373.53,120.22 380.00,119.70 C386.47,119.18 394.17,118.45 400.00,117.70 C405.83,116.95 410.83,116.07 415.00,115.20 C419.17,114.33 422.33,113.87 425.00,112.50 C427.67,111.13 429.33,109.42 431.00,107.00 C432.67,104.58 433.83,101.33 435.00,98.00 C436.17,94.67 437.08,89.58 438.00,87.00 C438.92,84.42 439.67,82.83 440.50,82.50 C441.33,82.17 442.08,83.58 443.00,85.00 C443.92,86.42 445.00,90.17 446.00,91.00 C447.00,91.83 448.00,91.50 449.00,90.00 C450.00,88.50 450.83,85.33 452.00,82.00 C453.17,78.67 454.67,73.08 456.00,70.00 C457.33,66.92 458.67,64.58 460.00,63.50 C461.33,62.42 462.67,63.17 464.00,63.50 C465.33,63.83 466.83,65.17 468.00,65.50 C469.17,65.83 470.00,66.25 471.00,65.50 C472.00,64.75 473.00,63.58 474.00,61.00 C475.00,58.42 476.00,54.00 477.00,50.00 C478.00,46.00 479.08,40.83 480.00,37.00 C480.92,33.17 481.83,29.83 482.50,27.00 C483.17,24.17 483.58,22.00 484.00,20.00 C484.42,18.00 484.83,15.83 485.00,15.00" fill="none" stroke="#22e8f0" stroke-width="1.2" stroke-linejoin="round"/>
<path d="M361.20,120.60 C364.33,120.42 373.53,120.02 380.00,119.50 C386.47,118.98 394.17,118.25 400.00,117.50 C405.83,116.75 410.83,115.92 415.00,115.00 C419.17,114.08 422.33,113.50 425.00,112.00 C427.67,110.50 429.33,108.83 431.00,106.00 C432.67,103.17 433.83,99.00 435.00,95.00 C436.17,91.00 437.08,85.17 438.00,82.00 C438.92,78.83 439.67,76.67 440.50,76.00 C441.33,75.33 442.08,76.50 443.00,78.00 C443.92,79.50 445.00,84.00 446.00,85.00 C447.00,86.00 448.00,85.50 449.00,84.00 C450.00,82.50 450.83,79.67 452.00,76.00 C453.17,72.33 454.67,65.50 456.00,62.00 C457.33,58.50 458.67,56.17 460.00,55.00 C461.33,53.83 462.67,54.17 464.00,55.00 C465.33,55.83 467.00,59.00 468.00,60.00 C469.00,61.00 469.25,61.33 470.00,61.00 C470.75,60.67 471.75,59.83 472.50,58.00 C473.25,56.17 473.75,53.00 474.50,50.00 C475.25,47.00 476.17,43.33 477.00,40.00 C477.83,36.67 478.67,33.33 479.50,30.00 C480.33,26.67 481.42,22.50 482.00,20.00 C482.58,17.50 482.83,15.83 483.00,15.00" fill="none" stroke="#f020f0" stroke-width="1.3" stroke-linejoin="round"/>
</g>
<line x1="361.20" y1="122.90" x2="361.20" y2="120.70" stroke="#222" stroke-width="0.7"/>
<text x="361.20" y="132.12" font-size="7.0" text-anchor="middle" font-weight="bold" font-family="'Liberation Sans', sans-serif" fill="#111" stroke="#111" stroke-width="0.25">0.4</text>
<line x1="402.90" y1="122.90" x2="402.90" y2="120.70" stroke="#222" stroke-width="0.7"/>
<text x="402.90" y="132.12" font-size="7.0" text-anchor="middle" font-weight="bold" font-family="'Liberation Sans', sans-serif" fill="#111" stroke="#111" stroke-width="0.25">0.6</text>
<line x1="444.60" y1="122.90" x2="444.60" y2="120.70" stroke="#222" stroke-width="0.7"/>
<text x="444.60" y="132.12" font-size="7.0" text-anchor="middle" font-weight="bold" font-family="'Liberation Sans', sans-serif" fill="#111" stroke="#111" stroke-width="0.25">0.8</text>
<line x1="486.30" y1="122.90" x2="486.30" y2="120.70" stroke="#222" stroke-width="0.7"/>
<text x="486.30" y="132.12" font-size="7.0" text-anchor="middle" font-weight="bold" font-family="'Liberation Sans', sans-serif" fill="#111" stroke="#111" stroke-width="0.25">1.0</text>
<line x1="361.20" y1="122.90" x2="361.20" y2="121.60" stroke="#222" stroke-width="0.6"/>
<line x1="371.62" y1="122.90" x2="371.62" y2="121.60" stroke="#222" stroke-width="0.6"/>
<line x1="382.05" y1="122.90" x2="382.05" y2="121.60" stroke="#222" stroke-width="0.6"/>
<line x1="392.48" y1="122.90" x2="392.48" y2="121.60" stroke="#222" stroke-width="0.6"/>
<line x1="402.90" y1="122.90" x2="402.90" y2="121.60" stroke="#222" stroke-width="0.6"/>
<line x1="413.32" y1="122.90" x2="413.32" y2="121.60" stroke="#222" stroke-width="0.6"/>
<line x1="423.75" y1="122.90" x2="423.75" y2="121.60" stroke="#222" stroke-width="0.6"/>
<line x1="434.17" y1="122.90" x2="434.17" y2="121.60" stroke="#222" stroke-width="0.6"/>
<line x1="444.60" y1="122.90" x2="444.60" y2="121.60" stroke="#222" stroke-width="0.6"/>
<line x1="455.02" y1="122.90" x2="455.02" y2="121.60" stroke="#222" stroke-width="0.6"/>
<line x1="465.45" y1="122.90" x2="465.45" y2="121.60" stroke="#222" stroke-width="0.6"/>
<line x1="475.87" y1="122.90" x2="475.87" y2="121.60" stroke="#222" stroke-width="0.6"/>
<line x1="486.30" y1="122.90" x2="486.30" y2="121.60" stroke="#222" stroke-width="0.6"/>
<line x1="361.20" y1="48.40" x2="363.40" y2="48.40" stroke="#222" stroke-width="0.7"/>
<text x="359.20" y="50.92" font-size="7.0" text-anchor="end" font-weight="bold" font-family="'Liberation Sans', sans-serif" fill="#111" stroke="#111" stroke-width="0.25">6</text>
<line x1="361.20" y1="90.60" x2="363.40" y2="90.60" stroke="#222" stroke-width="0.7"/>
<text x="359.20" y="93.12" font-size="7.0" text-anchor="end" font-weight="bold" font-family="'Liberation Sans', sans-serif" fill="#111" stroke="#111" stroke-width="0.25">3</text>
<line x1="361.20" y1="34.30" x2="362.50" y2="34.30" stroke="#222" stroke-width="0.6"/>
<line x1="361.20" y1="62.50" x2="362.50" y2="62.50" stroke="#222" stroke-width="0.6"/>
<line x1="361.20" y1="76.50" x2="362.50" y2="76.50" stroke="#222" stroke-width="0.6"/>
<line x1="361.20" y1="104.70" x2="362.50" y2="104.70" stroke="#222" stroke-width="0.6"/>
<line x1="361.20" y1="118.80" x2="362.50" y2="118.80" stroke="#222" stroke-width="0.6"/>
<rect x="361.20" y="20.30" width="125.10" height="102.60" fill="none" stroke="#1a1a1a" stroke-width="1.1"/>
<text x="343.60" y="84.30" dy="2.45" font-size="6.8" text-anchor="middle" font-weight="bold" font-family="'Liberation Sans', sans-serif" fill="#111" stroke="#111" stroke-width="0.2" transform="rotate(-90 343.60 84.30)" textLength="44.5" lengthAdjust="spacingAndGlyphs">Current / μA</text>
<text x="416.50" y="140.78" font-size="6.6" text-anchor="middle" font-weight="bold" font-family="'Liberation Sans', sans-serif" fill="#111" stroke="#111" stroke-width="0.2" textLength="41.5" lengthAdjust="spacingAndGlyphs">Potential / V</text>
<text x="450.00" y="40.40" font-size="16" font-weight="bold" font-family="'Liberation Sans', sans-serif" fill="#000" stroke="#000" stroke-width="0.3">A</text>
<rect x="383.6" y="23.9" width="55.8" height="44.3" fill="#fff" stroke="#222" stroke-width="0.8"/>
<line x1="384.00" y1="67.90" x2="439.40" y2="23.90" stroke="#3048e8" stroke-width="1.25"/>
<rect x="383.70" y="65.90" width="2.20" height="2.20" fill="#111"/>
<rect x="386.30" y="64.40" width="2.20" height="2.20" fill="#111"/>
<rect x="395.80" y="56.00" width="2.20" height="2.20" fill="#111"/>
<rect x="408.00" y="45.00" width="2.20" height="2.20" fill="#111"/>
<rect x="419.80" y="39.00" width="2.20" height="2.20" fill="#111"/>
<rect x="432.40" y="26.50" width="2.20" height="2.20" fill="#111"/>
<text x="380.60" y="33.73" font-size="4.8" text-anchor="middle" font-weight="bold" font-family="'Liberation Sans', sans-serif" fill="#111" stroke="#111" stroke-width="0.15">4</text>
<line x1="383.60" y1="32.00" x2="385.00" y2="32.00" stroke="#222" stroke-width="0.5"/>
<text x="380.60" y="50.73" font-size="4.8" text-anchor="middle" font-weight="bold" font-family="'Liberation Sans', sans-serif" fill="#111" stroke="#111" stroke-width="0.15">3</text>
<line x1="383.60" y1="49.00" x2="385.00" y2="49.00" stroke="#222" stroke-width="0.5"/>
<text x="380.60" y="68.43" font-size="4.8" text-anchor="middle" font-weight="bold" font-family="'Liberation Sans', sans-serif" fill="#111" stroke="#111" stroke-width="0.15">2</text>
<line x1="383.60" y1="66.70" x2="385.00" y2="66.70" stroke="#222" stroke-width="0.5"/>
<text x="384.40" y="74.49" font-size="4.7" text-anchor="middle" font-weight="bold" font-family="'Liberation Sans', sans-serif" fill="#111" stroke="#111" stroke-width="0.15">0</text>
<text x="397.50" y="74.49" font-size="4.7" text-anchor="middle" font-weight="bold" font-family="'Liberation Sans', sans-serif" fill="#111" stroke="#111" stroke-width="0.15">100</text>
<text x="409.20" y="74.49" font-size="4.7" text-anchor="middle" font-weight="bold" font-family="'Liberation Sans', sans-serif" fill="#111" stroke="#111" stroke-width="0.15">200</text>
<text x="421.20" y="74.49" font-size="4.7" text-anchor="middle" font-weight="bold" font-family="'Liberation Sans', sans-serif" fill="#111" stroke="#111" stroke-width="0.15">300</text>
<text x="433.00" y="74.49" font-size="4.7" text-anchor="middle" font-weight="bold" font-family="'Liberation Sans', sans-serif" fill="#111" stroke="#111" stroke-width="0.15">400</text>
<text x="420.70" y="55.20" font-size="5.0" text-anchor="middle" font-weight="bold" font-family="'Liberation Sans', sans-serif" fill="#111" stroke="#111" stroke-width="0.15" textLength="19.5" lengthAdjust="spacingAndGlyphs">R=0.997</text>
<text x="375.2" y="50.1" dy="1.6" font-size="4.6" text-anchor="middle" font-weight="bold" font-family="'Liberation Sans', sans-serif" fill="#111" transform="rotate(-90 375.2 50.1)" textLength="31" lengthAdjust="spacingAndGlyphs">Current / μA</text>
<text x="412.4" y="80.6" font-size="4.9" text-anchor="middle" font-weight="bold" font-family="'Liberation Sans', sans-serif" fill="#111" textLength="44.5" lengthAdjust="spacingAndGlyphs">[Vitamin B<tspan font-size="3.4" dy="0.8">2</tspan><tspan dy="-0.8">] / μM</tspan></text>
<g clip-path="url(#cB)">
<path d="M518.70,112.60 C518.95,112.60 519.70,112.58 520.20,112.57 C520.70,112.56 521.20,112.55 521.70,112.54 C522.20,112.53 522.70,112.52 523.20,112.52 C523.70,112.51 524.20,112.50 524.70,112.49 C525.20,112.48 525.70,112.47 526.20,112.46 C526.70,112.45 527.20,112.44 527.70,112.43 C528.20,112.42 528.70,112.41 529.20,112.40 C529.70,112.39 530.20,112.38 530.70,112.37 C531.20,112.37 531.70,112.36 532.20,112.35 C532.70,112.34 533.20,112.33 533.70,112.32 C534.20,112.31 534.70,112.30 535.20,112.29 C535.70,112.28 536.20,112.27 536.70,112.26 C537.20,112.25 537.70,112.24 538.20,112.23 C538.70,112.22 539.20,112.22 539.70,112.21 C540.20,112.19 540.70,112.17 541.20,112.16 C541.70,112.14 542.20,112.12 542.70,112.11 C543.20,112.09 543.70,112.07 544.20,112.05 C544.70,112.04 545.20,112.02 545.70,112.00 C546.20,111.98 546.70,111.97 547.20,111.95 C547.70,111.93 548.20,111.91 548.70,111.90 C549.20,111.88 549.70,111.86 550.20,111.84 C550.70,111.83 551.20,111.81 551.70,111.79 C552.20,111.77 552.70,111.76 553.20,111.74 C553.70,111.72 554.20,111.70 554.70,111.69 C555.20,111.67 555.70,111.65 556.20,111.63 C556.70,111.62 557.20,111.60 557.70,111.58 C558.20,111.56 558.70,111.55 559.20,111.53 C559.70,111.51 560.20,111.48 560.70,111.45 C561.20,111.42 561.70,111.38 562.20,111.35 C562.70,111.31 563.20,111.28 563.70,111.24 C564.20,111.21 564.70,111.17 565.20,111.14 C565.70,111.10 566.20,111.07 566.70,111.03 C567.20,110.99 567.70,110.96 568.20,110.92 C568.70,110.89 569.20,110.86 569.70,110.81 C570.20,110.76 570.70,110.69 571.20,110.62 C571.70,110.56 572.20,110.48 572.70,110.41 C573.20,110.33 573.70,110.26 574.20,110.17 C574.70,110.09 575.20,110.00 575.70,109.91 C576.20,109.81 576.70,109.71 577.20,109.60 C577.70,109.48 578.20,109.37 578.70,109.23 C579.20,109.09 579.70,108.96 580.20,108.76 C580.70,108.56 581.20,108.27 581.70,108.01 C582.20,107.75 582.70,107.48 583.20,107.21 C583.70,106.94 584.20,106.66 584.70,106.39 C585.20,106.12 585.70,105.84 586.20,105.59 C586.70,105.34 587.20,105.07 587.70,104.87 C588.20,104.67 588.70,104.54 589.20,104.41 C589.70,104.29 590.20,104.21 590.70,104.13 C591.20,104.05 591.70,103.99 592.20,103.93 C592.70,103.87 593.20,103.83 593.70,103.79 C594.20,103.75 594.70,103.72 595.20,103.69 C595.70,103.67 596.20,103.66 596.70,103.65 C597.20,103.63 597.70,103.63 598.20,103.63 C598.70,103.62 599.20,103.62 599.70,103.62 C600.20,103.62 600.70,103.62 601.20,103.62 C601.70,103.61 602.20,103.61 602.70,103.60 C603.20,103.59 603.70,103.59 604.20,103.56 C604.70,103.54 605.20,103.50 605.70,103.45 C606.20,103.40 606.70,103.33 607.20,103.26 C607.70,103.20 608.20,103.12 608.70,103.05 C609.20,102.97 609.70,102.89 610.20,102.80 C610.70,102.72 611.20,102.63 611.70,102.53 C612.20,102.44 612.70,102.35 613.20,102.25 C613.70,102.14 614.20,102.03 614.70,101.92 C615.20,101.81 615.70,101.69 616.20,101.57 C616.70,101.45 617.20,101.34 617.70,101.22 C618.20,101.10 618.70,101.00 619.20,100.86 C619.70,100.72 620.20,100.56 620.70,100.38 C621.20,100.20 621.70,99.98 622.20,99.78 C622.70,99.57 623.20,99.37 623.70,99.17 C624.20,98.96 624.70,98.76 625.20,98.56 C625.70,98.35 626.20,98.16 626.70,97.95 C627.20,97.74 627.70,97.55 628.20,97.30 C628.70,97.05 629.20,96.72 629.70,96.42 C630.20,96.13 630.70,95.84 631.20,95.55 C631.70,95.26 632.20,94.97 632.70,94.67 C633.20,94.38 633.70,94.09 634.20,93.80 C634.70,93.51 635.20,93.24 635.70,92.92 C636.20,92.61 636.70,92.24 637.20,91.89 C637.70,91.54 638.20,91.17 638.70,90.81 C639.20,90.46 639.70,90.10 640.20,89.74 C640.70,89.38 641.20,89.02 641.70,88.66 C642.20,88.31 642.70,87.95 643.20,87.59 C643.70,87.23 644.45,86.69 644.70,86.51" fill="none" stroke="#222" stroke-width="1.0" stroke-linejoin="round"/>
<path d="M518.70,112.60 C518.95,112.60 519.70,112.58 520.20,112.57 C520.70,112.56 521.20,112.55 521.70,112.54 C522.20,112.53 522.70,112.52 523.20,112.52 C523.70,112.51 524.20,112.50 524.70,112.49 C525.20,112.48 525.70,112.47 526.20,112.46 C526.70,112.45 527.20,112.44 527.70,112.43 C528.20,112.42 528.70,112.41 529.20,112.40 C529.70,112.39 530.20,112.38 530.70,112.37 C531.20,112.37 531.70,112.36 532.20,112.35 C532.70,112.34 533.20,112.33 533.70,112.32 C534.20,112.31 534.70,112.30 535.20,112.29 C535.70,112.28 536.20,112.27 536.70,112.26 C537.20,112.25 537.70,112.24 538.20,112.23 C538.70,112.22 539.20,112.22 539.70,112.21 C540.20,112.19 540.70,112.17 541.20,112.16 C541.70,112.14 542.20,112.12 542.70,112.11 C543.20,112.09 543.70,112.07 544.20,112.05 C544.70,112.04 545.20,112.02 545.70,112.00 C546.20,111.98 546.70,111.97 547.20,111.95 C547.70,111.93 548.20,111.91 548.70,111.90 C549.20,111.88 549.70,111.86 550.20,111.84 C550.70,111.83 551.20,111.81 551.70,111.79 C552.20,111.77 552.70,111.76 553.20,111.74 C553.70,111.72 554.20,111.70 554.70,111.69 C555.20,111.67 555.70,111.65 556.20,111.63 C556.70,111.62 557.20,111.60 557.70,111.58 C558.20,111.56 558.70,111.55 559.20,111.53 C559.70,111.51 560.20,111.48 560.70,111.45 C561.20,111.42 561.70,111.38 562.20,111.35 C562.70,111.31 563.20,111.28 563.70,111.24 C564.20,111.21 564.70,111.17 565.20,111.14 C565.70,111.10 566.20,111.06 566.70,111.03 C567.20,110.99 567.70,110.96 568.20,110.92 C568.70,110.89 569.20,110.86 569.70,110.81 C570.20,110.76 570.70,110.69 571.20,110.62 C571.70,110.55 572.20,110.48 572.70,110.40 C573.20,110.33 573.70,110.25 574.20,110.16 C574.70,110.07 575.20,109.98 575.70,109.88 C576.20,109.78 576.70,109.68 577.20,109.56 C577.70,109.44 578.20,109.31 578.70,109.16 C579.20,109.01 579.70,108.87 580.20,108.65 C580.70,108.44 581.20,108.13 581.70,107.86 C582.20,107.58 582.70,107.29 583.20,107.00 C583.70,106.71 584.20,106.41 584.70,106.12 C585.20,105.83 585.70,105.53 586.20,105.26 C586.70,104.99 587.20,104.71 587.70,104.50 C588.20,104.29 588.70,104.14 589.20,104.02 C589.70,103.89 590.20,103.81 590.70,103.74 C591.20,103.66 591.70,103.60 592.20,103.54 C592.70,103.49 593.20,103.45 593.70,103.42 C594.20,103.39 594.70,103.36 595.20,103.35 C595.70,103.34 596.20,103.33 596.70,103.33 C597.20,103.33 597.70,103.34 598.20,103.35 C598.70,103.36 599.20,103.37 599.70,103.38 C600.20,103.39 600.70,103.41 601.20,103.41 C601.70,103.42 602.20,103.43 602.70,103.43 C603.20,103.44 603.70,103.44 604.20,103.43 C604.70,103.41 605.20,103.39 605.70,103.35 C606.20,103.31 606.70,103.24 607.20,103.18 C607.70,103.12 608.20,103.06 608.70,102.99 C609.20,102.92 609.70,102.84 610.20,102.76 C610.70,102.68 611.20,102.59 611.70,102.50 C612.20,102.41 612.70,102.32 613.20,102.22 C613.70,102.12 614.20,102.01 614.70,101.90 C615.20,101.80 615.70,101.69 616.20,101.58 C616.70,101.47 617.20,101.37 617.70,101.26 C618.20,101.15 618.70,101.05 619.20,100.92 C619.70,100.79 620.20,100.65 620.70,100.47 C621.20,100.30 621.70,100.09 622.20,99.89 C622.70,99.70 623.20,99.51 623.70,99.31 C624.20,99.12 624.70,98.92 625.20,98.73 C625.70,98.53 626.20,98.34 626.70,98.14 C627.20,97.94 627.70,97.76 628.20,97.52 C628.70,97.27 629.20,96.95 629.70,96.67 C630.20,96.39 630.70,96.10 631.20,95.82 C631.70,95.54 632.20,95.25 632.70,94.97 C633.20,94.69 633.70,94.40 634.20,94.12 C634.70,93.84 635.20,93.58 635.70,93.27 C636.20,92.96 636.70,92.60 637.20,92.26 C637.70,91.92 638.20,91.56 638.70,91.21 C639.20,90.86 639.70,90.51 640.20,90.16 C640.70,89.81 641.20,89.46 641.70,89.11 C642.20,88.76 642.70,88.41 643.20,88.06 C643.70,87.71 644.45,87.18 644.70,87.01" fill="none" stroke="#8b1a1a" stroke-width="1.0" stroke-linejoin="round"/>
<path d="M518.70,112.60 C518.95,112.60 519.70,112.58 520.20,112.57 C520.70,112.56 521.20,112.55 521.70,112.54 C522.20,112.53 522.70,112.52 523.20,112.52 C523.70,112.51 524.20,112.50 524.70,112.49 C525.20,112.48 525.70,112.47 526.20,112.46 C526.70,112.45 527.20,112.44 527.70,112.43 C528.20,112.42 528.70,112.41 529.20,112.40 C529.70,112.39 530.20,112.38 530.70,112.37 C531.20,112.37 531.70,112.36 532.20,112.35 C532.70,112.34 533.20,112.33 533.70,112.32 C534.20,112.31 534.70,112.30 535.20,112.29 C535.70,112.28 536.20,112.27 536.70,112.26 C537.20,112.25 537.70,112.24 538.20,112.23 C538.70,112.22 539.20,112.22 539.70,112.21 C540.20,112.19 540.70,112.17 541.20,112.16 C541.70,112.14 542.20,112.12 542.70,112.11 C543.20,112.09 543.70,112.07 544.20,112.05 C544.70,112.04 545.20,112.02 545.70,112.00 C546.20,111.98 546.70,111.97 547.20,111.95 C547.70,111.93 548.20,111.91 548.70,111.90 C549.20,111.88 549.70,111.86 550.20,111.84 C550.70,111.83 551.20,111.81 551.70,111.79 C552.20,111.77 552.70,111.76 553.20,111.74 C553.70,111.72 554.20,111.70 554.70,111.69 C555.20,111.67 555.70,111.65 556.20,111.63 C556.70,111.62 557.20,111.60 557.70,111.58 C558.20,111.56 558.70,111.55 559.20,111.53 C559.70,111.51 560.20,111.48 560.70,111.45 C561.20,111.42 561.70,111.38 562.20,111.35 C562.70,111.31 563.20,111.28 563.70,111.24 C564.20,111.21 564.70,111.17 565.20,111.14 C565.70,111.10 566.20,111.07 566.70,111.03 C567.20,110.99 567.70,110.96 568.20,110.92 C568.70,110.89 569.20,110.86 569.70,110.81 C570.20,110.76 570.70,110.69 571.20,110.63 C571.70,110.56 572.20,110.49 572.70,110.41 C573.20,110.34 573.70,110.26 574.20,110.18 C574.70,110.10 575.20,110.01 575.70,109.92 C576.20,109.83 576.70,109.73 577.20,109.62 C577.70,109.51 578.20,109.40 578.70,109.26 C579.20,109.13 579.70,109.01 580.20,108.81 C580.70,108.61 581.20,108.34 581.70,108.09 C582.20,107.84 582.70,107.58 583.20,107.32 C583.70,107.06 584.20,106.78 584.70,106.52 C585.20,106.26 585.70,106.00 586.20,105.75 C586.70,105.51 587.20,105.25 587.70,105.06 C588.20,104.87 588.70,104.73 589.20,104.61 C589.70,104.49 590.20,104.41 590.70,104.33 C591.20,104.25 591.70,104.19 592.20,104.13 C592.70,104.07 593.20,104.02 593.70,103.97 C594.20,103.93 594.70,103.90 595.20,103.87 C595.70,103.84 596.20,103.82 596.70,103.80 C597.20,103.79 597.70,103.78 598.20,103.77 C598.70,103.76 599.20,103.75 599.70,103.74 C600.20,103.73 600.70,103.73 601.20,103.72 C601.70,103.71 602.20,103.70 602.70,103.68 C603.20,103.67 603.70,103.66 604.20,103.63 C604.70,103.60 605.20,103.56 605.70,103.51 C606.20,103.45 606.70,103.38 607.20,103.30 C607.70,103.23 608.20,103.16 608.70,103.08 C609.20,103.00 609.70,102.91 610.20,102.82 C610.70,102.74 611.20,102.64 611.70,102.55 C612.20,102.46 612.70,102.36 613.20,102.26 C613.70,102.15 614.20,102.03 614.70,101.93 C615.20,101.82 615.70,101.73 616.20,101.63 C616.70,101.53 617.20,101.44 617.70,101.34 C618.20,101.24 618.70,101.16 619.20,101.04 C619.70,100.92 620.20,100.79 620.70,100.63 C621.20,100.47 621.70,100.27 622.20,100.09 C622.70,99.91 623.20,99.73 623.70,99.54 C624.20,99.36 624.70,99.18 625.20,99.00 C625.70,98.82 626.20,98.64 626.70,98.45 C627.20,98.26 627.70,98.10 628.20,97.87 C628.70,97.64 629.20,97.33 629.70,97.06 C630.20,96.79 630.70,96.52 631.20,96.25 C631.70,95.98 632.20,95.71 632.70,95.44 C633.20,95.17 633.70,94.90 634.20,94.63 C634.70,94.36 635.20,94.12 635.70,93.82 C636.20,93.53 636.70,93.18 637.20,92.85 C637.70,92.52 638.20,92.18 638.70,91.84 C639.20,91.51 639.70,91.17 640.20,90.83 C640.70,90.50 641.20,90.16 641.70,89.82 C642.20,89.49 642.70,89.15 643.20,88.81 C643.70,88.48 644.45,87.97 644.70,87.80" fill="none" stroke="#e01818" stroke-width="1.0" stroke-linejoin="round"/>
<path d="M518.70,112.60 C518.95,112.60 519.70,112.58 520.20,112.57 C520.70,112.56 521.20,112.55 521.70,112.54 C522.20,112.53 522.70,112.52 523.20,112.52 C523.70,112.51 524.20,112.50 524.70,112.49 C525.20,112.48 525.70,112.47 526.20,112.46 C526.70,112.45 527.20,112.44 527.70,112.43 C528.20,112.42 528.70,112.41 529.20,112.40 C529.70,112.39 530.20,112.38 530.70,112.37 C531.20,112.37 531.70,112.36 532.20,112.35 C532.70,112.34 533.20,112.33 533.70,112.32 C534.20,112.31 534.70,112.30 535.20,112.29 C535.70,112.28 536.20,112.27 536.70,112.26 C537.20,112.25 537.70,112.24 538.20,112.23 C538.70,112.22 539.20,112.22 539.70,112.21 C540.20,112.19 540.70,112.17 541.20,112.16 C541.70,112.14 542.20,112.12 542.70,112.11 C543.20,112.09 543.70,112.07 544.20,112.05 C544.70,112.04 545.20,112.02 545.70,112.00 C546.20,111.98 546.70,111.97 547.20,111.95 C547.70,111.93 548.20,111.91 548.70,111.90 C549.20,111.88 549.70,111.86 550.20,111.84 C550.70,111.83 551.20,111.81 551.70,111.79 C552.20,111.77 552.70,111.76 553.20,111.74 C553.70,111.72 554.20,111.70 554.70,111.69 C555.20,111.67 555.70,111.65 556.20,111.63 C556.70,111.62 557.20,111.60 557.70,111.58 C558.20,111.56 558.70,111.55 559.20,111.53 C559.70,111.51 560.20,111.48 560.70,111.45 C561.20,111.42 561.70,111.38 562.20,111.35 C562.70,111.31 563.20,111.28 563.70,111.24 C564.20,111.20 564.70,111.17 565.20,111.13 C565.70,111.10 566.20,111.06 566.70,111.02 C567.20,110.99 567.70,110.95 568.20,110.91 C568.70,110.87 569.20,110.84 569.70,110.78 C570.20,110.73 570.70,110.65 571.20,110.56 C571.70,110.47 572.20,110.38 572.70,110.27 C573.20,110.16 573.70,110.04 574.20,109.90 C574.70,109.75 575.20,109.59 575.70,109.39 C576.20,109.19 576.70,108.97 577.20,108.69 C577.70,108.42 578.20,108.11 578.70,107.73 C579.20,107.36 579.70,106.96 580.20,106.44 C580.70,105.92 581.20,105.28 581.70,104.63 C582.20,103.99 582.70,103.28 583.20,102.58 C583.70,101.88 584.20,101.13 584.70,100.43 C585.20,99.73 585.70,99.01 586.20,98.39 C586.70,97.77 587.20,97.14 587.70,96.69 C588.20,96.24 588.70,95.91 589.20,95.69 C589.70,95.47 590.20,95.41 590.70,95.36 C591.20,95.30 591.70,95.32 592.20,95.36 C592.70,95.40 593.20,95.50 593.70,95.62 C594.20,95.74 594.70,95.91 595.20,96.10 C595.70,96.28 596.20,96.51 596.70,96.75 C597.20,96.98 597.70,97.25 598.20,97.52 C598.70,97.78 599.20,98.07 599.70,98.34 C600.20,98.61 600.70,98.90 601.20,99.16 C601.70,99.43 602.20,99.69 602.70,99.93 C603.20,100.17 603.70,100.41 604.20,100.62 C604.70,100.82 605.20,101.00 605.70,101.14 C606.20,101.29 606.70,101.40 607.20,101.50 C607.70,101.59 608.20,101.67 608.70,101.73 C609.20,101.78 609.70,101.82 610.20,101.84 C610.70,101.86 611.20,101.86 611.70,101.85 C612.20,101.84 612.70,101.81 613.20,101.77 C613.70,101.73 614.20,101.64 614.70,101.60 C615.20,101.56 615.70,101.56 616.20,101.54 C616.70,101.52 617.20,101.51 617.70,101.49 C618.20,101.46 618.70,101.45 619.20,101.40 C619.70,101.35 620.20,101.28 620.70,101.18 C621.20,101.09 621.70,100.95 622.20,100.82 C622.70,100.70 623.20,100.58 623.70,100.45 C624.20,100.33 624.70,100.20 625.20,100.08 C625.70,99.95 626.20,99.83 626.70,99.69 C627.20,99.56 627.70,99.45 628.20,99.28 C628.70,99.10 629.20,98.84 629.70,98.63 C630.20,98.41 630.70,98.20 631.20,97.98 C631.70,97.76 632.20,97.55 632.70,97.33 C633.20,97.11 633.70,96.90 634.20,96.68 C634.70,96.46 635.20,96.27 635.70,96.03 C636.20,95.79 636.70,95.50 637.20,95.22 C637.70,94.94 638.20,94.65 638.70,94.37 C639.20,94.09 639.70,93.80 640.20,93.52 C640.70,93.24 641.20,92.95 641.70,92.67 C642.20,92.39 642.70,92.10 643.20,91.82 C643.70,91.54 644.45,91.11 644.70,90.97" fill="none" stroke="#1f2fe8" stroke-width="1.2" stroke-linejoin="round"/>
<path d="M518.70,112.60 C518.95,112.60 519.70,112.58 520.20,112.57 C520.70,112.56 521.20,112.55 521.70,112.54 C522.20,112.53 522.70,112.52 523.20,112.52 C523.70,112.51 524.20,112.50 524.70,112.49 C525.20,112.48 525.70,112.47 526.20,112.46 C526.70,112.45 527.20,112.44 527.70,112.43 C528.20,112.42 528.70,112.41 529.20,112.40 C529.70,112.39 530.20,112.38 530.70,112.37 C531.20,112.37 531.70,112.36 532.20,112.35 C532.70,112.34 533.20,112.33 533.70,112.32 C534.20,112.31 534.70,112.30 535.20,112.29 C535.70,112.28 536.20,112.27 536.70,112.26 C537.20,112.25 537.70,112.24 538.20,112.23 C538.70,112.22 539.20,112.22 539.70,112.21 C540.20,112.19 540.70,112.17 541.20,112.16 C541.70,112.14 542.20,112.12 542.70,112.11 C543.20,112.09 543.70,112.07 544.20,112.05 C544.70,112.04 545.20,112.02 545.70,112.00 C546.20,111.98 546.70,111.97 547.20,111.95 C547.70,111.93 548.20,111.91 548.70,111.90 C549.20,111.88 549.70,111.86 550.20,111.84 C550.70,111.83 551.20,111.81 551.70,111.79 C552.20,111.77 552.70,111.76 553.20,111.74 C553.70,111.72 554.20,111.70 554.70,111.69 C555.20,111.67 555.70,111.65 556.20,111.63 C556.70,111.62 557.20,111.60 557.70,111.58 C558.20,111.56 558.70,111.55 559.20,111.53 C559.70,111.51 560.20,111.48 560.70,111.45 C561.20,111.42 561.70,111.38 562.20,111.34 C562.70,111.31 563.20,111.27 563.70,111.24 C564.20,111.20 564.70,111.16 565.20,111.12 C565.70,111.08 566.20,111.04 566.70,110.99 C567.20,110.94 567.70,110.90 568.20,110.83 C568.70,110.77 569.20,110.72 569.70,110.61 C570.20,110.51 570.70,110.38 571.20,110.20 C571.70,110.03 572.20,109.84 572.70,109.57 C573.20,109.31 573.70,109.01 574.20,108.61 C574.70,108.21 575.20,107.76 575.70,107.17 C576.20,106.59 576.70,105.91 577.20,105.09 C577.70,104.28 578.20,103.34 578.70,102.27 C579.20,101.19 579.70,99.99 580.20,98.65 C580.70,97.31 581.20,95.74 581.70,94.23 C582.20,92.71 582.70,91.07 583.20,89.56 C583.70,88.05 584.20,86.48 584.70,85.16 C585.20,83.83 585.70,82.56 586.20,81.61 C586.70,80.65 587.20,79.88 587.70,79.43 C588.20,78.99 588.70,78.98 589.20,78.96 C589.70,78.95 590.20,79.12 590.70,79.36 C591.20,79.59 591.70,79.95 592.20,80.38 C592.70,80.81 593.20,81.35 593.70,81.94 C594.20,82.53 594.70,83.21 595.20,83.91 C595.70,84.62 596.20,85.40 596.70,86.17 C597.20,86.95 597.70,87.77 598.20,88.57 C598.70,89.36 599.20,90.18 599.70,90.96 C600.20,91.73 600.70,92.50 601.20,93.22 C601.70,93.94 602.20,94.63 602.70,95.27 C603.20,95.91 603.70,96.52 604.20,97.06 C604.70,97.59 605.20,98.07 605.70,98.49 C606.20,98.91 606.70,99.26 607.20,99.57 C607.70,99.88 608.20,100.14 608.70,100.37 C609.20,100.59 609.70,100.76 610.20,100.90 C610.70,101.05 611.20,101.15 611.70,101.22 C612.20,101.30 612.70,101.34 613.20,101.36 C613.70,101.38 614.20,101.35 614.70,101.34 C615.20,101.32 615.70,101.29 616.20,101.26 C616.70,101.22 617.20,101.17 617.70,101.12 C618.20,101.06 618.70,101.01 619.20,100.92 C619.70,100.83 620.20,100.72 620.70,100.58 C621.20,100.44 621.70,100.25 622.20,100.09 C622.70,99.92 623.20,99.75 623.70,99.57 C624.20,99.40 624.70,99.23 625.20,99.05 C625.70,98.88 626.20,98.71 626.70,98.52 C627.20,98.34 627.70,98.18 628.20,97.95 C628.70,97.73 629.20,97.42 629.70,97.16 C630.20,96.89 630.70,96.62 631.20,96.36 C631.70,96.09 632.20,95.83 632.70,95.56 C633.20,95.29 633.70,95.03 634.20,94.76 C634.70,94.49 635.20,94.25 635.70,93.96 C636.20,93.67 636.70,93.33 637.20,93.00 C637.70,92.67 638.20,92.33 638.70,92.00 C639.20,91.67 639.70,91.33 640.20,91.00 C640.70,90.67 641.20,90.33 641.70,90.00 C642.20,89.67 642.70,89.33 643.20,89.00 C643.70,88.67 644.45,88.17 644.70,88.00" fill="none" stroke="#22e8f0" stroke-width="1.2" stroke-linejoin="round"/>
<path d="M518.70,112.60 C518.95,112.60 519.70,112.58 520.20,112.57 C520.70,112.56 521.20,112.55 521.70,112.54 C522.20,112.53 522.70,112.52 523.20,112.52 C523.70,112.51 524.20,112.50 524.70,112.49 C525.20,112.48 525.70,112.47 526.20,112.46 C526.70,112.45 527.20,112.44 527.70,112.43 C528.20,112.42 528.70,112.41 529.20,112.40 C529.70,112.39 530.20,112.38 530.70,112.37 C531.20,112.37 531.70,112.36 532.20,112.35 C532.70,112.34 533.20,112.33 533.70,112.32 C534.20,112.31 534.70,112.30 535.20,112.29 C535.70,112.28 536.20,112.27 536.70,112.26 C537.20,112.25 537.70,112.24 538.20,112.23 C538.70,112.22 539.20,112.22 539.70,112.21 C540.20,112.19 540.70,112.17 541.20,112.16 C541.70,112.14 542.20,112.12 542.70,112.11 C543.20,112.09 543.70,112.07 544.20,112.05 C544.70,112.04 545.20,112.02 545.70,112.00 C546.20,111.98 546.70,111.97 547.20,111.95 C547.70,111.93 548.20,111.91 548.70,111.90 C549.20,111.88 549.70,111.86 550.20,111.84 C550.70,111.83 551.20,111.81 551.70,111.79 C552.20,111.77 552.70,111.76 553.20,111.74 C553.70,111.72 554.20,111.70 554.70,111.69 C555.20,111.67 555.70,111.65 556.20,111.63 C556.70,111.62 557.20,111.60 557.70,111.58 C558.20,111.56 558.70,111.55 559.20,111.53 C559.70,111.51 560.20,111.48 560.70,111.45 C561.20,111.42 561.70,111.38 562.20,111.34 C562.70,111.31 563.20,111.27 563.70,111.23 C564.20,111.19 564.70,111.16 565.20,111.11 C565.70,111.07 566.20,111.03 566.70,110.97 C567.20,110.92 567.70,110.86 568.20,110.79 C568.70,110.71 569.20,110.64 569.70,110.51 C570.20,110.37 570.70,110.21 571.20,109.97 C571.70,109.74 572.20,109.48 572.70,109.11 C573.20,108.74 573.70,108.33 574.20,107.75 C574.70,107.18 575.20,106.52 575.70,105.66 C576.20,104.80 576.70,103.81 577.20,102.60 C577.70,101.39 578.20,99.99 578.70,98.39 C579.20,96.79 579.70,94.99 580.20,93.00 C580.70,91.02 581.20,88.73 581.70,86.49 C582.20,84.26 582.70,81.83 583.20,79.61 C583.70,77.38 584.20,75.07 584.70,73.13 C585.20,71.18 585.70,69.33 586.20,67.95 C586.70,66.57 587.20,65.47 587.70,64.87 C588.20,64.26 588.70,64.28 589.20,64.30 C589.70,64.33 590.20,64.63 590.70,65.04 C591.20,65.44 591.70,66.03 592.20,66.73 C592.70,67.43 593.20,68.30 593.70,69.24 C594.20,70.19 594.70,71.27 595.20,72.39 C595.70,73.51 596.20,74.74 596.70,75.97 C597.20,77.19 597.70,78.49 598.20,79.74 C598.70,81.00 599.20,82.29 599.70,83.51 C600.20,84.74 600.70,85.95 601.20,87.09 C601.70,88.23 602.20,89.33 602.70,90.35 C603.20,91.37 603.70,92.33 604.20,93.20 C604.70,94.06 605.20,94.84 605.70,95.54 C606.20,96.23 606.70,96.83 607.20,97.37 C607.70,97.90 608.20,98.36 608.70,98.76 C609.20,99.16 609.70,99.48 610.20,99.76 C610.70,100.04 611.20,100.25 611.70,100.43 C612.20,100.61 612.70,100.73 613.20,100.82 C613.70,100.92 614.20,100.95 614.70,100.98 C615.20,101.01 615.70,101.00 616.20,100.99 C616.70,100.97 617.20,100.93 617.70,100.88 C618.20,100.84 618.70,100.79 619.20,100.70 C619.70,100.60 620.20,100.49 620.70,100.34 C621.20,100.19 621.70,99.99 622.20,99.81 C622.70,99.64 623.20,99.45 623.70,99.27 C624.20,99.08 624.70,98.89 625.20,98.70 C625.70,98.51 626.20,98.33 626.70,98.13 C627.20,97.93 627.70,97.76 628.20,97.51 C628.70,97.27 629.20,96.95 629.70,96.67 C630.20,96.38 630.70,96.10 631.20,95.82 C631.70,95.54 632.20,95.25 632.70,94.97 C633.20,94.69 633.70,94.40 634.20,94.12 C634.70,93.84 635.20,93.58 635.70,93.27 C636.20,92.96 636.70,92.60 637.20,92.26 C637.70,91.92 638.20,91.56 638.70,91.21 C639.20,90.86 639.70,90.51 640.20,90.16 C640.70,89.81 641.20,89.46 641.70,89.11 C642.20,88.76 642.70,88.41 643.20,88.06 C643.70,87.71 644.45,87.18 644.70,87.01" fill="none" stroke="#f020f0" stroke-width="1.3" stroke-linejoin="round"/>
<path d="M518.70,112.60 C518.95,112.60 519.70,112.58 520.20,112.57 C520.70,112.56 521.20,112.55 521.70,112.54 C522.20,112.53 522.70,112.52 523.20,112.52 C523.70,112.51 524.20,112.50 524.70,112.49 C525.20,112.48 525.70,112.47 526.20,112.46 C526.70,112.45 527.20,112.44 527.70,112.43 C528.20,112.42 528.70,112.41 529.20,112.40 C529.70,112.39 530.20,112.38 530.70,112.37 C531.20,112.37 531.70,112.36 532.20,112.35 C532.70,112.34 533.20,112.33 533.70,112.32 C534.20,112.31 534.70,112.30 535.20,112.29 C535.70,112.28 536.20,112.27 536.70,112.26 C537.20,112.25 537.70,112.24 538.20,112.23 C538.70,112.22 539.20,112.22 539.70,112.21 C540.20,112.19 540.70,112.17 541.20,112.16 C541.70,112.14 542.20,112.12 542.70,112.11 C543.20,112.09 543.70,112.07 544.20,112.05 C544.70,112.04 545.20,112.02 545.70,112.00 C546.20,111.98 546.70,111.97 547.20,111.95 C547.70,111.93 548.20,111.91 548.70,111.90 C549.20,111.88 549.70,111.86 550.20,111.84 C550.70,111.83 551.20,111.81 551.70,111.79 C552.20,111.77 552.70,111.76 553.20,111.74 C553.70,111.72 554.20,111.70 554.70,111.69 C555.20,111.67 555.70,111.65 556.20,111.63 C556.70,111.62 557.20,111.60 557.70,111.58 C558.20,111.56 558.70,111.55 559.20,111.53 C559.70,111.51 560.20,111.48 560.70,111.45 C561.20,111.42 561.70,111.38 562.20,111.34 C562.70,111.30 563.20,111.27 563.70,111.23 C564.20,111.19 564.70,111.15 565.20,111.10 C565.70,111.05 566.20,111.01 566.70,110.94 C567.20,110.88 567.70,110.82 568.20,110.72 C568.70,110.62 569.20,110.53 569.70,110.35 C570.20,110.17 570.70,109.96 571.20,109.64 C571.70,109.32 572.20,108.97 572.70,108.45 C573.20,107.93 573.70,107.34 574.20,106.51 C574.70,105.68 575.20,104.73 575.70,103.47 C576.20,102.22 576.70,100.77 577.20,98.98 C577.70,97.20 578.20,95.14 578.70,92.78 C579.20,90.42 579.70,87.74 580.20,84.82 C580.70,81.90 581.20,78.56 581.70,75.29 C582.20,72.01 582.70,68.45 583.20,65.19 C583.70,61.92 584.20,58.54 584.70,55.70 C585.20,52.86 585.70,50.15 586.20,48.16 C586.70,46.17 587.20,44.60 587.70,43.75 C588.20,42.90 588.70,42.97 589.20,43.06 C589.70,43.15 590.20,43.64 590.70,44.29 C591.20,44.94 591.70,45.86 592.20,46.95 C592.70,48.05 593.20,49.39 593.70,50.85 C594.20,52.31 594.70,53.97 595.20,55.70 C595.70,57.42 596.20,59.30 596.70,61.18 C597.20,63.05 597.70,65.03 598.20,66.96 C598.70,68.88 599.20,70.85 599.70,72.73 C600.20,74.60 600.70,76.47 601.20,78.21 C601.70,79.96 602.20,81.65 602.70,83.22 C603.20,84.78 603.70,86.26 604.20,87.60 C604.70,88.94 605.20,90.17 605.70,91.26 C606.20,92.35 606.70,93.31 607.20,94.17 C607.70,95.03 608.20,95.78 608.70,96.43 C609.20,97.09 609.70,97.63 610.20,98.11 C610.70,98.58 611.20,98.96 611.70,99.28 C612.20,99.60 612.70,99.85 613.20,100.05 C613.70,100.24 614.20,100.37 614.70,100.47 C615.20,100.56 615.70,100.58 616.20,100.60 C616.70,100.61 617.20,100.58 617.70,100.54 C618.20,100.50 618.70,100.45 619.20,100.36 C619.70,100.26 620.20,100.13 620.70,99.98 C621.20,99.82 621.70,99.60 622.20,99.41 C622.70,99.21 623.20,99.01 623.70,98.81 C624.20,98.60 624.70,98.39 625.20,98.18 C625.70,97.97 626.20,97.76 626.70,97.53 C627.20,97.31 627.70,97.12 628.20,96.85 C628.70,96.58 629.20,96.24 629.70,95.93 C630.20,95.62 630.70,95.31 631.20,95.01 C631.70,94.70 632.20,94.39 632.70,94.08 C633.20,93.78 633.70,93.47 634.20,93.16 C634.70,92.85 635.20,92.57 635.70,92.23 C636.20,91.90 636.70,91.52 637.20,91.15 C637.70,90.78 638.20,90.40 638.70,90.02 C639.20,89.65 639.70,89.27 640.20,88.90 C640.70,88.52 641.20,88.15 641.70,87.77 C642.20,87.40 642.70,87.02 643.20,86.65 C643.70,86.27 644.45,85.71 644.70,85.52" fill="none" stroke="#1f8a2a" stroke-width="1.3" stroke-linejoin="round"/>
</g>
<line x1="539.30" y1="123.00" x2="539.30" y2="120.80" stroke="#222" stroke-width="0.7"/>
<text x="539.30" y="131.52" font-size="7.0" text-anchor="middle" font-weight="bold" font-family="'Liberation Sans', sans-serif" fill="#111" stroke="#111" stroke-width="0.25">0.4</text>
<line x1="580.60" y1="123.00" x2="580.60" y2="120.80" stroke="#222" stroke-width="0.7"/>
<text x="580.60" y="131.52" font-size="7.0" text-anchor="middle" font-weight="bold" font-family="'Liberation Sans', sans-serif" fill="#111" stroke="#111" stroke-width="0.25">0.6</text>
<line x1="621.90" y1="123.00" x2="621.90" y2="120.80" stroke="#222" stroke-width="0.7"/>
<text x="621.90" y="131.52" font-size="7.0" text-anchor="middle" font-weight="bold" font-family="'Liberation Sans', sans-serif" fill="#111" stroke="#111" stroke-width="0.25">0.8</text>
<line x1="518.64" y1="123.00" x2="518.64" y2="121.70" stroke="#222" stroke-width="0.6"/>
<line x1="528.97" y1="123.00" x2="528.97" y2="121.70" stroke="#222" stroke-width="0.6"/>
<line x1="539.30" y1="123.00" x2="539.30" y2="121.70" stroke="#222" stroke-width="0.6"/>
<line x1="549.63" y1="123.00" x2="549.63" y2="121.70" stroke="#222" stroke-width="0.6"/>
<line x1="559.96" y1="123.00" x2="559.96" y2="121.70" stroke="#222" stroke-width="0.6"/>
<line x1="570.29" y1="123.00" x2="570.29" y2="121.70" stroke="#222" stroke-width="0.6"/>
<line x1="580.62" y1="123.00" x2="580.62" y2="121.70" stroke="#222" stroke-width="0.6"/>
<line x1="590.95" y1="123.00" x2="590.95" y2="121.70" stroke="#222" stroke-width="0.6"/>
<line x1="601.28" y1="123.00" x2="601.28" y2="121.70" stroke="#222" stroke-width="0.6"/>
<line x1="611.61" y1="123.00" x2="611.61" y2="121.70" stroke="#222" stroke-width="0.6"/>
<line x1="621.94" y1="123.00" x2="621.94" y2="121.70" stroke="#222" stroke-width="0.6"/>
<line x1="632.27" y1="123.00" x2="632.27" y2="121.70" stroke="#222" stroke-width="0.6"/>
<line x1="642.60" y1="123.00" x2="642.60" y2="121.70" stroke="#222" stroke-width="0.6"/>
<line x1="518.80" y1="20.90" x2="521.00" y2="20.90" stroke="#222" stroke-width="0.7"/>
<text x="516.00" y="23.42" font-size="7.0" text-anchor="end" font-weight="bold" font-family="'Liberation Sans', sans-serif" fill="#111" stroke="#111" stroke-width="0.25"></text>
<line x1="518.80" y1="46.30" x2="521.00" y2="46.30" stroke="#222" stroke-width="0.7"/>
<text x="516.00" y="48.82" font-size="7.0" text-anchor="end" font-weight="bold" font-family="'Liberation Sans', sans-serif" fill="#111" stroke="#111" stroke-width="0.25">6</text>
<line x1="518.80" y1="71.70" x2="521.00" y2="71.70" stroke="#222" stroke-width="0.7"/>
<text x="516.00" y="74.22" font-size="7.0" text-anchor="end" font-weight="bold" font-family="'Liberation Sans', sans-serif" fill="#111" stroke="#111" stroke-width="0.25">4</text>
<line x1="518.80" y1="97.40" x2="521.00" y2="97.40" stroke="#222" stroke-width="0.7"/>
<text x="516.00" y="99.92" font-size="7.0" text-anchor="end" font-weight="bold" font-family="'Liberation Sans', sans-serif" fill="#111" stroke="#111" stroke-width="0.25">2</text>
<line x1="518.80" y1="122.80" x2="521.00" y2="122.80" stroke="#222" stroke-width="0.7"/>
<text x="516.00" y="125.32" font-size="7.0" text-anchor="end" font-weight="bold" font-family="'Liberation Sans', sans-serif" fill="#111" stroke="#111" stroke-width="0.25">0</text>
<line x1="518.80" y1="27.30" x2="520.10" y2="27.30" stroke="#222" stroke-width="0.6"/>
<line x1="518.80" y1="33.60" x2="520.10" y2="33.60" stroke="#222" stroke-width="0.6"/>
<line x1="518.80" y1="40.00" x2="520.10" y2="40.00" stroke="#222" stroke-width="0.6"/>
<line x1="518.80" y1="52.70" x2="520.10" y2="52.70" stroke="#222" stroke-width="0.6"/>
<line x1="518.80" y1="59.00" x2="520.10" y2="59.00" stroke="#222" stroke-width="0.6"/>
<line x1="518.80" y1="65.40" x2="520.10" y2="65.40" stroke="#222" stroke-width="0.6"/>
<line x1="518.80" y1="78.10" x2="520.10" y2="78.10" stroke="#222" stroke-width="0.6"/>
<line x1="518.80" y1="84.40" x2="520.10" y2="84.40" stroke="#222" stroke-width="0.6"/>
<line x1="518.80" y1="90.80" x2="520.10" y2="90.80" stroke="#222" stroke-width="0.6"/>
<line x1="518.80" y1="103.70" x2="520.10" y2="103.70" stroke="#222" stroke-width="0.6"/>
<line x1="518.80" y1="110.10" x2="520.10" y2="110.10" stroke="#222" stroke-width="0.6"/>
<line x1="518.80" y1="116.40" x2="520.10" y2="116.40" stroke="#222" stroke-width="0.6"/>
<rect x="518.80" y="20.60" width="125.30" height="102.40" fill="none" stroke="#1a1a1a" stroke-width="1.1"/>
<text x="503.60" y="72.20" dy="2.45" font-size="6.8" text-anchor="middle" font-weight="bold" font-family="'Liberation Sans', sans-serif" fill="#111" stroke="#111" stroke-width="0.2" transform="rotate(-90 503.60 72.20)" textLength="46.5" lengthAdjust="spacingAndGlyphs">Current / μA</text>
<text x="582.60" y="142.78" font-size="6.6" text-anchor="middle" font-weight="bold" font-family="'Liberation Sans', sans-serif" fill="#111" stroke="#111" stroke-width="0.2" textLength="41.5" lengthAdjust="spacingAndGlyphs">Potential / V</text>
<text x="610.40" y="38.30" font-size="16" font-weight="bold" font-family="'Liberation Sans', sans-serif" fill="#000" stroke="#000" stroke-width="0.3">B</text>
<clipPath id="c8"><rect x="505" y="18.8" width="15" height="6"/></clipPath>
<g clip-path="url(#c8)"><text x="516.2" y="22.92" font-size="7.0" text-anchor="end" font-weight="bold" font-family="'Liberation Sans', sans-serif" fill="#111" stroke="#111" stroke-width="0.25">8</text></g>
<rect x="528.1" y="21.1" width="52.3" height="40.4" fill="#fff" stroke="#222" stroke-width="0.8"/>
<line x1="529.10" y1="60.70" x2="577.80" y2="21.70" stroke="#3048e8" stroke-width="1.25"/>
<rect x="529.40" y="59.40" width="1.60" height="1.60" fill="#111"/>
<rect x="531.80" y="58.20" width="1.60" height="1.60" fill="#111"/>
<rect x="536.60" y="54.20" width="1.60" height="1.60" fill="#111"/>
<rect x="543.40" y="45.00" width="1.60" height="1.60" fill="#111"/>
<rect x="557.80" y="36.90" width="1.60" height="1.60" fill="#111"/>
<rect x="572.20" y="25.70" width="1.60" height="1.60" fill="#111"/>
<text x="526.20" y="29.01" font-size="4.2" text-anchor="middle" font-weight="bold" font-family="'Liberation Sans', sans-serif" fill="#111" stroke="#111" stroke-width="0.12">6</text>
<text x="526.20" y="43.41" font-size="4.2" text-anchor="middle" font-weight="bold" font-family="'Liberation Sans', sans-serif" fill="#111" stroke="#111" stroke-width="0.12">4</text>
<text x="526.20" y="57.41" font-size="4.2" text-anchor="middle" font-weight="bold" font-family="'Liberation Sans', sans-serif" fill="#111" stroke="#111" stroke-width="0.12">2</text>
<text x="529.70" y="66.51" font-size="4.2" text-anchor="middle" font-weight="bold" font-family="'Liberation Sans', sans-serif" fill="#111" stroke="#111" stroke-width="0.12">0</text>
<text x="543.50" y="66.51" font-size="4.2" text-anchor="middle" font-weight="bold" font-family="'Liberation Sans', sans-serif" fill="#111" stroke="#111" stroke-width="0.12">100</text>
<text x="557.90" y="66.51" font-size="4.2" text-anchor="middle" font-weight="bold" font-family="'Liberation Sans', sans-serif" fill="#111" stroke="#111" stroke-width="0.12">200</text>
<text x="571.90" y="66.51" font-size="4.2" text-anchor="middle" font-weight="bold" font-family="'Liberation Sans', sans-serif" fill="#111" stroke="#111" stroke-width="0.12">300</text>
<text x="561.90" y="49.05" font-size="4.3" text-anchor="middle" font-weight="bold" font-family="'Liberation Sans', sans-serif" fill="#222" textLength="15" lengthAdjust="spacingAndGlyphs">R=0.996</text>
<text x="521.7" y="42.6" dy="1.5" font-size="4.4" text-anchor="middle" font-weight="bold" font-family="'Liberation Sans', sans-serif" fill="#111" transform="rotate(-90 521.7 42.6)" textLength="32" lengthAdjust="spacingAndGlyphs">Current / μA</text>
<text x="554.5" y="74.6" font-size="4.6" text-anchor="middle" font-weight="bold" font-family="'Liberation Sans', sans-serif" fill="#111" textLength="44" lengthAdjust="spacingAndGlyphs">[Vitamin D<tspan font-size="3.2" dy="0.8">3</tspan><tspan dy="-0.8">] / μM</tspan></text>
<g clip-path="url(#cC)">
<polygon points="450.7,159.7 486.9,196.5 469.1,196.5 469.1,260 432.8,260 432.8,196.5 414.5,196.5" fill="#e9c2e6"/>
<path d="M361.40,257.70 C363.67,257.55 370.23,257.20 375.00,256.80 C379.77,256.40 386.00,256.02 390.00,255.30 C394.00,254.58 396.67,253.80 399.00,252.50 C401.33,251.20 402.33,249.17 404.00,247.50 C405.67,245.83 407.50,243.42 409.00,242.50 C410.50,241.58 411.50,241.75 413.00,242.00 C414.50,242.25 416.33,243.33 418.00,244.00 C419.67,244.67 421.20,245.55 423.00,246.00 C424.80,246.45 426.80,246.70 428.80,246.70 C430.80,246.70 432.80,246.52 435.00,246.00 C437.20,245.48 439.50,244.68 442.00,243.60 C444.50,242.52 447.33,241.27 450.00,239.50 C452.67,237.73 455.50,235.50 458.00,233.00 C460.50,230.50 463.00,227.17 465.00,224.50 C467.00,221.83 468.33,219.92 470.00,217.00 C471.67,214.08 473.67,209.83 475.00,207.00 C476.33,204.17 477.12,202.33 478.00,200.00 C478.88,197.67 479.43,197.00 480.30,193.00 C481.17,189.00 482.22,182.00 483.20,176.00 C484.18,170.00 485.57,161.33 486.20,157.00 C486.83,152.67 486.87,151.17 487.00,150.00" fill="none" stroke="#2a8a2a" stroke-width="1.0" stroke-linejoin="round"/>
<path d="M361.40,257.70 C363.67,257.55 370.23,257.20 375.00,256.80 C379.77,256.40 386.00,256.02 390.00,255.30 C394.00,254.58 396.67,253.80 399.00,252.50 C401.33,251.20 402.33,249.17 404.00,247.50 C405.67,245.83 407.50,243.42 409.00,242.50 C410.50,241.58 411.50,241.75 413.00,242.00 C414.50,242.25 416.33,243.33 418.00,244.00 C419.67,244.67 421.20,245.55 423.00,246.00 C424.80,246.45 426.80,246.70 428.80,246.70 C430.80,246.70 432.80,246.45 435.00,246.00 C437.20,245.55 439.50,244.95 442.00,244.00 C444.50,243.05 447.33,241.97 450.00,240.30 C452.67,238.63 455.50,236.38 458.00,234.00 C460.50,231.62 463.00,228.50 465.00,226.00 C467.00,223.50 468.33,221.83 470.00,219.00 C471.67,216.17 473.67,211.83 475.00,209.00 C476.33,206.17 477.05,204.33 478.00,202.00 C478.95,199.67 479.78,199.00 480.70,195.00 C481.62,191.00 482.52,184.33 483.50,178.00 C484.48,171.67 485.93,161.67 486.60,157.00 C487.27,152.33 487.35,151.17 487.50,150.00" fill="none" stroke="#2030e8" stroke-width="1.2" stroke-linejoin="round"/>
<path d="M361.50,257.30 C363.75,257.17 370.25,256.88 375.00,256.50 C379.75,256.12 386.00,255.75 390.00,255.00 C394.00,254.25 396.67,253.50 399.00,252.00 C401.33,250.50 402.42,248.00 404.00,246.00 C405.58,244.00 407.00,240.92 408.50,240.00 C410.00,239.08 411.42,240.00 413.00,240.50 C414.58,241.00 416.33,242.25 418.00,243.00 C419.67,243.75 421.25,244.58 423.00,245.00 C424.75,245.42 426.83,245.58 428.50,245.50 C430.17,245.42 431.58,245.08 433.00,244.50 C434.42,243.92 435.83,243.00 437.00,242.00 C438.17,241.00 439.00,239.30 440.00,238.50 C441.00,237.70 442.00,237.28 443.00,237.20 C444.00,237.12 445.00,238.20 446.00,238.00 C447.00,237.80 448.00,237.17 449.00,236.00 C450.00,234.83 450.83,233.33 452.00,231.00 C453.17,228.67 454.67,225.17 456.00,222.00 C457.33,218.83 458.67,214.83 460.00,212.00 C461.33,209.17 462.83,206.53 464.00,205.00 C465.17,203.47 466.00,203.05 467.00,202.80 C468.00,202.55 469.17,203.30 470.00,203.50 C470.83,203.70 471.17,204.75 472.00,204.00 C472.83,203.25 474.00,201.33 475.00,199.00 C476.00,196.67 477.00,193.50 478.00,190.00 C479.00,186.50 480.17,182.00 481.00,178.00 C481.83,174.00 482.40,169.45 483.00,166.00 C483.60,162.55 484.18,159.97 484.60,157.30 C485.02,154.63 485.35,151.22 485.50,150.00" fill="none" stroke="#8b2020" stroke-width="1.1" stroke-linejoin="round"/>
<path d="M361.50,257.30 C363.75,257.17 370.25,256.88 375.00,256.50 C379.75,256.12 386.00,255.75 390.00,255.00 C394.00,254.25 396.67,253.50 399.00,252.00 C401.33,250.50 402.42,248.00 404.00,246.00 C405.58,244.00 407.00,240.92 408.50,240.00 C410.00,239.08 411.42,240.00 413.00,240.50 C414.58,241.00 416.33,242.25 418.00,243.00 C419.67,243.75 421.25,244.58 423.00,245.00 C424.75,245.42 426.83,245.67 428.50,245.50 C430.17,245.33 431.58,244.75 433.00,244.00 C434.42,243.25 435.83,242.25 437.00,241.00 C438.17,239.75 439.00,237.58 440.00,236.50 C441.00,235.42 442.00,234.62 443.00,234.50 C444.00,234.38 445.17,235.55 446.00,235.80 C446.83,236.05 447.17,236.63 448.00,236.00 C448.83,235.37 449.83,234.17 451.00,232.00 C452.17,229.83 453.67,226.50 455.00,223.00 C456.33,219.50 457.83,214.17 459.00,211.00 C460.17,207.83 461.00,205.83 462.00,204.00 C463.00,202.17 463.83,200.75 465.00,200.00 C466.17,199.25 467.83,199.58 469.00,199.50 C470.17,199.42 471.00,200.08 472.00,199.50 C473.00,198.92 474.00,198.25 475.00,196.00 C476.00,193.75 477.00,190.00 478.00,186.00 C479.00,182.00 480.08,176.78 481.00,172.00 C481.92,167.22 483.00,160.97 483.50,157.30 C484.00,153.63 483.92,151.22 484.00,150.00" fill="none" stroke="#f070e8" stroke-width="1.1" stroke-linejoin="round"/>
<path d="M361.50,257.30 C363.75,257.17 370.25,256.88 375.00,256.50 C379.75,256.12 386.00,255.75 390.00,255.00 C394.00,254.25 396.67,253.50 399.00,252.00 C401.33,250.50 402.42,248.00 404.00,246.00 C405.58,244.00 407.00,240.92 408.50,240.00 C410.00,239.08 411.42,240.00 413.00,240.50 C414.58,241.00 416.33,242.25 418.00,243.00 C419.67,243.75 421.25,244.58 423.00,245.00 C424.75,245.42 426.83,245.75 428.50,245.50 C430.17,245.25 431.58,244.42 433.00,243.50 C434.42,242.58 435.83,241.58 437.00,240.00 C438.17,238.42 439.00,235.47 440.00,234.00 C441.00,232.53 442.00,231.28 443.00,231.20 C444.00,231.12 445.17,233.07 446.00,233.50 C446.83,233.93 447.17,234.55 448.00,233.80 C448.83,233.05 449.83,231.63 451.00,229.00 C452.17,226.37 453.67,222.17 455.00,218.00 C456.33,213.83 457.83,207.67 459.00,204.00 C460.17,200.33 461.00,197.87 462.00,196.00 C463.00,194.13 463.95,193.40 465.00,192.80 C466.05,192.20 467.03,192.57 468.30,192.40 C469.57,192.23 471.15,192.92 472.60,191.80 C474.05,190.68 475.77,189.33 477.00,185.70 C478.23,182.07 479.08,174.73 480.00,170.00 C480.92,165.27 482.00,160.63 482.50,157.30 C483.00,153.97 482.92,151.22 483.00,150.00" fill="none" stroke="#f020f0" stroke-width="1.2" stroke-linejoin="round"/>
<path d="M361.40,257.80 C363.67,257.65 370.23,257.27 375.00,256.90 C379.77,256.53 385.83,256.25 390.00,255.60 C394.17,254.95 397.50,254.27 400.00,253.00 C402.50,251.73 403.20,249.70 405.00,248.00 C406.80,246.30 409.13,243.72 410.80,242.80 C412.47,241.88 413.47,242.30 415.00,242.50 C416.53,242.70 417.83,243.58 420.00,244.00 C422.17,244.42 425.83,245.08 428.00,245.00 C430.17,244.92 431.50,244.67 433.00,243.50 C434.50,242.33 435.83,240.58 437.00,238.00 C438.17,235.42 439.00,230.63 440.00,228.00 C441.00,225.37 442.00,222.53 443.00,222.20 C444.00,221.87 445.17,225.23 446.00,226.00 C446.83,226.77 447.17,227.47 448.00,226.80 C448.83,226.13 449.83,224.80 451.00,222.00 C452.17,219.20 453.67,214.83 455.00,210.00 C456.33,205.17 457.83,197.33 459.00,193.00 C460.17,188.67 461.07,185.95 462.00,184.00 C462.93,182.05 463.52,181.38 464.60,181.30 C465.68,181.22 467.17,182.73 468.50,183.50 C469.83,184.27 471.40,186.37 472.60,185.90 C473.80,185.43 474.72,183.68 475.70,180.70 C476.68,177.72 477.67,171.90 478.50,168.00 C479.33,164.10 480.20,160.30 480.70,157.30 C481.20,154.30 481.37,151.22 481.50,150.00" fill="none" stroke="#222" stroke-width="1.1" stroke-linejoin="round"/>
</g>
<line x1="361.40" y1="259.30" x2="361.40" y2="257.10" stroke="#222" stroke-width="0.7"/>
<text x="361.40" y="268.12" font-size="7.0" text-anchor="middle" font-weight="bold" font-family="'Liberation Sans', sans-serif" fill="#111" stroke="#111" stroke-width="0.25">0.4</text>
<line x1="403.30" y1="259.30" x2="403.30" y2="257.10" stroke="#222" stroke-width="0.7"/>
<text x="403.30" y="268.12" font-size="7.0" text-anchor="middle" font-weight="bold" font-family="'Liberation Sans', sans-serif" fill="#111" stroke="#111" stroke-width="0.25">0.6</text>
<line x1="445.10" y1="259.30" x2="445.10" y2="257.10" stroke="#222" stroke-width="0.7"/>
<text x="445.10" y="268.12" font-size="7.0" text-anchor="middle" font-weight="bold" font-family="'Liberation Sans', sans-serif" fill="#111" stroke="#111" stroke-width="0.25">0.8</text>
<line x1="487.00" y1="259.30" x2="487.00" y2="257.10" stroke="#222" stroke-width="0.7"/>
<text x="487.00" y="268.12" font-size="7.0" text-anchor="middle" font-weight="bold" font-family="'Liberation Sans', sans-serif" fill="#111" stroke="#111" stroke-width="0.25">1.0</text>
<line x1="361.40" y1="259.30" x2="361.40" y2="258.00" stroke="#222" stroke-width="0.6"/>
<line x1="371.87" y1="259.30" x2="371.87" y2="258.00" stroke="#222" stroke-width="0.6"/>
<line x1="382.33" y1="259.30" x2="382.33" y2="258.00" stroke="#222" stroke-width="0.6"/>
<line x1="392.80" y1="259.30" x2="392.80" y2="258.00" stroke="#222" stroke-width="0.6"/>
<line x1="403.27" y1="259.30" x2="403.27" y2="258.00" stroke="#222" stroke-width="0.6"/>
<line x1="413.73" y1="259.30" x2="413.73" y2="258.00" stroke="#222" stroke-width="0.6"/>
<line x1="424.20" y1="259.30" x2="424.20" y2="258.00" stroke="#222" stroke-width="0.6"/>
<line x1="434.67" y1="259.30" x2="434.67" y2="258.00" stroke="#222" stroke-width="0.6"/>
<line x1="445.14" y1="259.30" x2="445.14" y2="258.00" stroke="#222" stroke-width="0.6"/>
<line x1="455.60" y1="259.30" x2="455.60" y2="258.00" stroke="#222" stroke-width="0.6"/>
<line x1="466.07" y1="259.30" x2="466.07" y2="258.00" stroke="#222" stroke-width="0.6"/>
<line x1="476.54" y1="259.30" x2="476.54" y2="258.00" stroke="#222" stroke-width="0.6"/>
<line x1="487.00" y1="259.30" x2="487.00" y2="258.00" stroke="#222" stroke-width="0.6"/>
<line x1="361.40" y1="157.20" x2="363.60" y2="157.20" stroke="#222" stroke-width="0.7"/>
<text x="359.60" y="159.72" font-size="7.0" text-anchor="end" font-weight="bold" font-family="'Liberation Sans', sans-serif" fill="#111" stroke="#111" stroke-width="0.25">8</text>
<line x1="361.40" y1="184.40" x2="363.60" y2="184.40" stroke="#222" stroke-width="0.7"/>
<text x="359.60" y="186.92" font-size="7.0" text-anchor="end" font-weight="bold" font-family="'Liberation Sans', sans-serif" fill="#111" stroke="#111" stroke-width="0.25">6</text>
<line x1="361.40" y1="211.60" x2="363.60" y2="211.60" stroke="#222" stroke-width="0.7"/>
<text x="359.60" y="214.12" font-size="7.0" text-anchor="end" font-weight="bold" font-family="'Liberation Sans', sans-serif" fill="#111" stroke="#111" stroke-width="0.25">4</text>
<line x1="361.40" y1="238.80" x2="363.60" y2="238.80" stroke="#222" stroke-width="0.7"/>
<text x="359.60" y="241.32" font-size="7.0" text-anchor="end" font-weight="bold" font-family="'Liberation Sans', sans-serif" fill="#111" stroke="#111" stroke-width="0.25">2</text>
<line x1="361.40" y1="164.00" x2="362.70" y2="164.00" stroke="#222" stroke-width="0.6"/>
<line x1="361.40" y1="170.80" x2="362.70" y2="170.80" stroke="#222" stroke-width="0.6"/>
<line x1="361.40" y1="177.60" x2="362.70" y2="177.60" stroke="#222" stroke-width="0.6"/>
<line x1="361.40" y1="191.20" x2="362.70" y2="191.20" stroke="#222" stroke-width="0.6"/>
<line x1="361.40" y1="198.00" x2="362.70" y2="198.00" stroke="#222" stroke-width="0.6"/>
<line x1="361.40" y1="204.80" x2="362.70" y2="204.80" stroke="#222" stroke-width="0.6"/>
<line x1="361.40" y1="218.40" x2="362.70" y2="218.40" stroke="#222" stroke-width="0.6"/>
<line x1="361.40" y1="225.20" x2="362.70" y2="225.20" stroke="#222" stroke-width="0.6"/>
<line x1="361.40" y1="232.00" x2="362.70" y2="232.00" stroke="#222" stroke-width="0.6"/>
<line x1="361.40" y1="245.60" x2="362.70" y2="245.60" stroke="#222" stroke-width="0.6"/>
<line x1="361.40" y1="252.40" x2="362.70" y2="252.40" stroke="#222" stroke-width="0.6"/>
<rect x="361.40" y="157.20" width="125.60" height="102.10" fill="none" stroke="#1a1a1a" stroke-width="1.1"/>
<text x="347.60" y="203.30" dy="2.45" font-size="6.8" text-anchor="middle" font-weight="bold" font-family="'Liberation Sans', sans-serif" fill="#111" stroke="#111" stroke-width="0.2" transform="rotate(-90 347.60 203.30)" textLength="44.5" lengthAdjust="spacingAndGlyphs">Current / μA</text>
<text x="425.00" y="276.98" font-size="6.6" text-anchor="middle" font-weight="bold" font-family="'Liberation Sans', sans-serif" fill="#111" stroke="#111" stroke-width="0.2" textLength="41.5" lengthAdjust="spacingAndGlyphs">Potential / V</text>
<text x="366.00" y="173.60" font-size="16" font-weight="bold" font-family="'Liberation Sans', sans-serif" fill="#000" stroke="#000" stroke-width="0.3">C</text>
<g clip-path="url(#cD)">
<polygon points="562.4,158 600.7,195.1 581.3,195.1 581.3,260 543,260 543,195.1 525,195.1" fill="#b0f2be"/>
<path d="M517.50,257.70 C519.58,257.62 526.02,257.43 530.00,257.20 C533.98,256.97 538.07,256.68 541.40,256.30 C544.73,255.92 547.23,255.55 550.00,254.90 C552.77,254.25 555.50,253.07 558.00,252.40 C560.50,251.73 562.67,251.15 565.00,250.90 C567.33,250.65 569.50,251.07 572.00,250.90 C574.50,250.73 577.33,250.48 580.00,249.90 C582.67,249.32 585.67,248.23 588.00,247.40 C590.33,246.57 591.17,246.08 594.00,244.90 C596.83,243.72 602.33,241.60 605.00,240.30 C607.67,239.00 608.33,238.60 610.00,237.10 C611.67,235.60 613.50,233.43 615.00,231.30 C616.50,229.17 617.67,226.88 619.00,224.30 C620.33,221.72 621.67,217.97 623.00,215.80 C624.33,213.63 625.67,212.82 627.00,211.30 C628.33,209.78 629.83,208.87 631.00,206.70 C632.17,204.53 632.90,202.47 634.00,198.30 C635.10,194.13 636.60,186.37 637.60,181.70 C638.60,177.03 639.02,175.20 640.00,170.30 C640.98,165.40 642.92,155.30 643.50,152.30" fill="none" stroke="#6a1a1a" stroke-width="1.0" stroke-linejoin="round"/>
<path d="M517.50,256.70 C519.58,256.62 526.02,256.45 530.00,256.20 C533.98,255.95 538.40,255.57 541.40,255.20 C544.40,254.83 545.90,254.62 548.00,254.00 C550.10,253.38 552.00,252.58 554.00,251.50 C556.00,250.42 558.17,248.42 560.00,247.50 C561.83,246.58 563.33,246.17 565.00,246.00 C566.67,245.83 568.17,246.33 570.00,246.50 C571.83,246.67 574.00,247.00 576.00,247.00 C578.00,247.00 580.00,246.75 582.00,246.50 C584.00,246.25 586.00,245.92 588.00,245.50 C590.00,245.08 592.00,244.50 594.00,244.00 C596.00,243.50 598.17,243.03 600.00,242.50 C601.83,241.97 603.33,241.62 605.00,240.80 C606.67,239.98 608.33,239.10 610.00,237.60 C611.67,236.10 613.50,233.93 615.00,231.80 C616.50,229.67 617.67,227.38 619.00,224.80 C620.33,222.22 621.67,218.47 623.00,216.30 C624.33,214.13 625.67,213.32 627.00,211.80 C628.33,210.28 629.83,209.37 631.00,207.20 C632.17,205.03 632.90,202.97 634.00,198.80 C635.10,194.63 636.60,186.87 637.60,182.20 C638.60,177.53 639.02,175.70 640.00,170.80 C640.98,165.90 642.92,155.80 643.50,152.80" fill="none" stroke="#1f9a2a" stroke-width="1.1" stroke-linejoin="round"/>
<path d="M517.50,256.80 C519.58,256.72 526.02,256.53 530.00,256.30 C533.98,256.07 538.07,255.78 541.40,255.40 C544.73,255.02 547.23,254.65 550.00,254.00 C552.77,253.35 555.50,252.17 558.00,251.50 C560.50,250.83 562.67,250.25 565.00,250.00 C567.33,249.75 569.50,250.17 572.00,250.00 C574.50,249.83 577.33,249.58 580.00,249.00 C582.67,248.42 585.67,247.33 588.00,246.50 C590.33,245.67 592.17,244.83 594.00,244.00 C595.83,243.17 597.50,242.25 599.00,241.50 C600.50,240.75 601.67,239.92 603.00,239.50 C604.33,239.08 605.67,239.67 607.00,239.00 C608.33,238.33 609.67,237.08 611.00,235.50 C612.33,233.92 613.67,231.92 615.00,229.50 C616.33,227.08 617.67,223.83 619.00,221.00 C620.33,218.17 621.67,214.50 623.00,212.50 C624.33,210.50 625.67,210.42 627.00,209.00 C628.33,207.58 629.83,206.33 631.00,204.00 C632.17,201.67 632.90,199.17 634.00,195.00 C635.10,190.83 636.60,183.50 637.60,179.00 C638.60,174.50 639.02,172.83 640.00,168.00 C640.98,163.17 642.92,153.00 643.50,150.00" fill="none" stroke="#e01818" stroke-width="1.1" stroke-linejoin="round"/>
<path d="M517.50,256.70 C519.58,256.62 526.02,256.48 530.00,256.20 C533.98,255.92 538.40,255.53 541.40,255.00 C544.40,254.47 546.07,254.08 548.00,253.00 C549.93,251.92 551.33,250.50 553.00,248.50 C554.67,246.50 556.50,243.00 558.00,241.00 C559.50,239.00 560.83,237.43 562.00,236.50 C563.17,235.57 563.83,235.32 565.00,235.40 C566.17,235.48 567.50,236.07 569.00,237.00 C570.50,237.93 572.17,239.83 574.00,241.00 C575.83,242.17 578.00,243.33 580.00,244.00 C582.00,244.67 584.00,244.92 586.00,245.00 C588.00,245.08 589.67,244.90 592.00,244.50 C594.33,244.10 597.83,243.10 600.00,242.60 C602.17,242.10 603.33,242.10 605.00,241.50 C606.67,240.90 608.33,240.17 610.00,239.00 C611.67,237.83 613.50,236.17 615.00,234.50 C616.50,232.83 617.67,231.25 619.00,229.00 C620.33,226.75 621.67,223.08 623.00,221.00 C624.33,218.92 625.67,218.17 627.00,216.50 C628.33,214.83 629.83,213.25 631.00,211.00 C632.17,208.75 632.90,207.00 634.00,203.00 C635.10,199.00 636.60,191.67 637.60,187.00 C638.60,182.33 639.02,180.00 640.00,175.00 C640.98,170.00 642.92,160.00 643.50,157.00" fill="none" stroke="#2030e8" stroke-width="1.2" stroke-linejoin="round"/>
<path d="M517.50,256.60 C519.58,256.52 526.02,256.40 530.00,256.10 C533.98,255.80 538.40,255.65 541.40,254.80 C544.40,253.95 546.07,253.13 548.00,251.00 C549.93,248.87 551.50,245.50 553.00,242.00 C554.50,238.50 555.83,233.17 557.00,230.00 C558.17,226.83 558.87,224.73 560.00,223.00 C561.13,221.27 562.63,219.93 563.80,219.60 C564.97,219.27 565.80,219.93 567.00,221.00 C568.20,222.07 569.50,224.00 571.00,226.00 C572.50,228.00 574.50,231.08 576.00,233.00 C577.50,234.92 578.50,236.25 580.00,237.50 C581.50,238.75 583.33,239.67 585.00,240.50 C586.67,241.33 588.17,242.08 590.00,242.50 C591.83,242.92 594.33,243.02 596.00,243.00 C597.67,242.98 598.50,242.82 600.00,242.40 C601.50,241.98 603.33,241.35 605.00,240.50 C606.67,239.65 608.33,238.80 610.00,237.30 C611.67,235.80 613.50,233.63 615.00,231.50 C616.50,229.37 617.67,227.08 619.00,224.50 C620.33,221.92 621.67,218.17 623.00,216.00 C624.33,213.83 625.67,213.02 627.00,211.50 C628.33,209.98 629.83,209.07 631.00,206.90 C632.17,204.73 632.90,202.67 634.00,198.50 C635.10,194.33 636.60,186.57 637.60,181.90 C638.60,177.23 639.02,175.40 640.00,170.50 C640.98,165.60 642.92,155.50 643.50,152.50" fill="none" stroke="#8b3a1a" stroke-width="1.1" stroke-linejoin="round"/>
<path d="M517.50,256.50 C519.58,256.42 526.02,256.33 530.00,256.00 C533.98,255.67 538.40,255.83 541.40,254.50 C544.40,253.17 546.07,251.75 548.00,248.00 C549.93,244.25 551.50,238.00 553.00,232.00 C554.50,226.00 555.83,217.42 557.00,212.00 C558.17,206.58 558.87,202.40 560.00,199.50 C561.13,196.60 562.63,195.18 563.80,194.60 C564.97,194.02 565.80,194.27 567.00,196.00 C568.20,197.73 569.50,201.00 571.00,205.00 C572.50,209.00 574.50,216.00 576.00,220.00 C577.50,224.00 578.73,226.65 580.00,229.00 C581.27,231.35 582.27,232.35 583.60,234.10 C584.93,235.85 586.60,238.18 588.00,239.50 C589.40,240.82 590.67,241.42 592.00,242.00 C593.33,242.58 594.67,242.95 596.00,243.00 C597.33,243.05 598.50,242.80 600.00,242.30 C601.50,241.80 603.33,240.92 605.00,240.00 C606.67,239.08 608.33,238.30 610.00,236.80 C611.67,235.30 613.50,233.13 615.00,231.00 C616.50,228.87 617.67,226.58 619.00,224.00 C620.33,221.42 621.67,217.67 623.00,215.50 C624.33,213.33 625.67,212.52 627.00,211.00 C628.33,209.48 629.83,208.57 631.00,206.40 C632.17,204.23 632.90,202.17 634.00,198.00 C635.10,193.83 636.60,186.07 637.60,181.40 C638.60,176.73 639.02,174.90 640.00,170.00 C640.98,165.10 642.92,155.00 643.50,152.00" fill="none" stroke="#222" stroke-width="1.1" stroke-linejoin="round"/>
</g>
<line x1="517.80" y1="259.40" x2="517.80" y2="257.20" stroke="#222" stroke-width="0.7"/>
<text x="517.80" y="267.72" font-size="7.0" text-anchor="middle" font-weight="bold" font-family="'Liberation Sans', sans-serif" fill="#111" stroke="#111" stroke-width="0.25">0.4</text>
<line x1="559.40" y1="259.40" x2="559.40" y2="257.20" stroke="#222" stroke-width="0.7"/>
<text x="559.40" y="267.72" font-size="7.0" text-anchor="middle" font-weight="bold" font-family="'Liberation Sans', sans-serif" fill="#111" stroke="#111" stroke-width="0.25">0.6</text>
<line x1="600.90" y1="259.40" x2="600.90" y2="257.20" stroke="#222" stroke-width="0.7"/>
<text x="600.90" y="267.72" font-size="7.0" text-anchor="middle" font-weight="bold" font-family="'Liberation Sans', sans-serif" fill="#111" stroke="#111" stroke-width="0.25">0.8</text>
<line x1="642.50" y1="259.40" x2="642.50" y2="257.20" stroke="#222" stroke-width="0.7"/>
<text x="642.50" y="267.72" font-size="7.0" text-anchor="middle" font-weight="bold" font-family="'Liberation Sans', sans-serif" fill="#111" stroke="#111" stroke-width="0.25">1.0</text>
<line x1="517.80" y1="259.40" x2="517.80" y2="258.10" stroke="#222" stroke-width="0.6"/>
<line x1="528.19" y1="259.40" x2="528.19" y2="258.10" stroke="#222" stroke-width="0.6"/>
<line x1="538.58" y1="259.40" x2="538.58" y2="258.10" stroke="#222" stroke-width="0.6"/>
<line x1="548.98" y1="259.40" x2="548.98" y2="258.10" stroke="#222" stroke-width="0.6"/>
<line x1="559.37" y1="259.40" x2="559.37" y2="258.10" stroke="#222" stroke-width="0.6"/>
<line x1="569.76" y1="259.40" x2="569.76" y2="258.10" stroke="#222" stroke-width="0.6"/>
<line x1="580.15" y1="259.40" x2="580.15" y2="258.10" stroke="#222" stroke-width="0.6"/>
<line x1="590.54" y1="259.40" x2="590.54" y2="258.10" stroke="#222" stroke-width="0.6"/>
<line x1="600.94" y1="259.40" x2="600.94" y2="258.10" stroke="#222" stroke-width="0.6"/>
<line x1="611.33" y1="259.40" x2="611.33" y2="258.10" stroke="#222" stroke-width="0.6"/>
<line x1="621.72" y1="259.40" x2="621.72" y2="258.10" stroke="#222" stroke-width="0.6"/>
<line x1="632.11" y1="259.40" x2="632.11" y2="258.10" stroke="#222" stroke-width="0.6"/>
<line x1="642.50" y1="259.40" x2="642.50" y2="258.10" stroke="#222" stroke-width="0.6"/>
<line x1="517.80" y1="157.30" x2="520.00" y2="157.30" stroke="#222" stroke-width="0.7"/>
<text x="515.40" y="159.82" font-size="7.0" text-anchor="end" font-weight="bold" font-family="'Liberation Sans', sans-serif" fill="#111" stroke="#111" stroke-width="0.25">8</text>
<line x1="517.80" y1="184.20" x2="520.00" y2="184.20" stroke="#222" stroke-width="0.7"/>
<text x="515.40" y="186.72" font-size="7.0" text-anchor="end" font-weight="bold" font-family="'Liberation Sans', sans-serif" fill="#111" stroke="#111" stroke-width="0.25">6</text>
<line x1="517.80" y1="211.00" x2="520.00" y2="211.00" stroke="#222" stroke-width="0.7"/>
<text x="515.40" y="213.52" font-size="7.0" text-anchor="end" font-weight="bold" font-family="'Liberation Sans', sans-serif" fill="#111" stroke="#111" stroke-width="0.25">4</text>
<line x1="517.80" y1="237.90" x2="520.00" y2="237.90" stroke="#222" stroke-width="0.7"/>
<text x="515.40" y="240.42" font-size="7.0" text-anchor="end" font-weight="bold" font-family="'Liberation Sans', sans-serif" fill="#111" stroke="#111" stroke-width="0.25">2</text>
<line x1="517.80" y1="164.00" x2="519.10" y2="164.00" stroke="#222" stroke-width="0.6"/>
<line x1="517.80" y1="170.80" x2="519.10" y2="170.80" stroke="#222" stroke-width="0.6"/>
<line x1="517.80" y1="177.50" x2="519.10" y2="177.50" stroke="#222" stroke-width="0.6"/>
<line x1="517.80" y1="191.00" x2="519.10" y2="191.00" stroke="#222" stroke-width="0.6"/>
<line x1="517.80" y1="197.70" x2="519.10" y2="197.70" stroke="#222" stroke-width="0.6"/>
<line x1="517.80" y1="204.40" x2="519.10" y2="204.40" stroke="#222" stroke-width="0.6"/>
<line x1="517.80" y1="217.70" x2="519.10" y2="217.70" stroke="#222" stroke-width="0.6"/>
<line x1="517.80" y1="224.50" x2="519.10" y2="224.50" stroke="#222" stroke-width="0.6"/>
<line x1="517.80" y1="231.20" x2="519.10" y2="231.20" stroke="#222" stroke-width="0.6"/>
<line x1="517.80" y1="244.60" x2="519.10" y2="244.60" stroke="#222" stroke-width="0.6"/>
<line x1="517.80" y1="251.30" x2="519.10" y2="251.30" stroke="#222" stroke-width="0.6"/>
<rect x="517.80" y="157.30" width="124.70" height="102.10" fill="none" stroke="#1a1a1a" stroke-width="1.1"/>
<text x="503.60" y="206.20" dy="2.45" font-size="6.8" text-anchor="middle" font-weight="bold" font-family="'Liberation Sans', sans-serif" fill="#111" stroke="#111" stroke-width="0.2" transform="rotate(-90 503.60 206.20)" textLength="44.5" lengthAdjust="spacingAndGlyphs">Current / μA</text>
<text x="585.20" y="275.68" font-size="6.6" text-anchor="middle" font-weight="bold" font-family="'Liberation Sans', sans-serif" fill="#111" stroke="#111" stroke-width="0.2" textLength="41.5" lengthAdjust="spacingAndGlyphs">Potential / V</text>
<text x="523.00" y="172.40" font-size="16" font-weight="bold" font-family="'Liberation Sans', sans-serif" fill="#000" stroke="#000" stroke-width="0.3">D</text>
<text x="339.2" y="318.4" font-size="6.2" text-anchor="middle" font-family="'Liberation Sans', 'DejaVu Sans', sans-serif" fill="#222" stroke="#222" stroke-width="0.12" textLength="38.5" lengthAdjust="spacingAndGlyphs">Ag electrodes</text>
<text x="399.4" y="318.4" font-size="6.2" text-anchor="middle" font-family="'Liberation Sans', 'DejaVu Sans', sans-serif" fill="#222" stroke="#222" stroke-width="0.12" textLength="41.5" lengthAdjust="spacingAndGlyphs">Sensing Device</text>
<defs><marker id="ah" markerWidth="4" markerHeight="4" refX="2.2" refY="2" orient="auto" markerUnits="userSpaceOnUse"><path d="M0,0 L4,2 L0,4 z" fill="#111"/></marker></defs>
<line x1="337.4" y1="323.2" x2="332.2" y2="331" stroke="#111" stroke-width="1.1" marker-end="url(#ah)"/>
<line x1="341" y1="323.2" x2="346.2" y2="331" stroke="#111" stroke-width="1.1" marker-end="url(#ah)"/>
<rect x="324.30" y="348.10" width="88.40" height="21.10" fill="#f3f3f3" stroke="#7a7a7a" stroke-width="0.8"/>
<rect x="324.00" y="339.20" width="88.70" height="8.90" fill="#1f4e79"/>
<rect x="324.60" y="336.50" width="9.90" height="2.80" fill="#f4b183" stroke="#c0805a" stroke-width="0.3"/>
<rect x="340.40" y="336.50" width="9.80" height="2.80" fill="#f4b183" stroke="#c0805a" stroke-width="0.3"/>
<rect x="357.00" y="336.50" width="10.00" height="2.80" fill="#f4b183" stroke="#c0805a" stroke-width="0.3"/>
<rect x="372.50" y="336.50" width="9.90" height="2.80" fill="#f4b183" stroke="#c0805a" stroke-width="0.3"/>
<rect x="387.70" y="336.50" width="9.30" height="2.80" fill="#f4b183" stroke="#c0805a" stroke-width="0.3"/>
<rect x="401.50" y="336.50" width="9.80" height="2.80" fill="#f4b183" stroke="#c0805a" stroke-width="0.3"/>
<text x="360.6" y="345.2" font-size="6" text-anchor="middle" font-weight="bold" font-family="'Liberation Sans', 'DejaVu Sans', sans-serif" fill="#fff" textLength="39" lengthAdjust="spacingAndGlyphs">ZnO Thin Film</text>
<text x="360.9" y="359.3" font-size="6.1" text-anchor="middle" font-family="'Liberation Sans', 'DejaVu Sans', sans-serif" fill="#333" stroke="#333" stroke-width="0.12" textLength="42" lengthAdjust="spacingAndGlyphs">Glass substrate</text>
<rect x="385.3" y="328.8" width="29.2" height="15.4" rx="1" fill="none" stroke="#f5a020" stroke-width="1" stroke-dasharray="1.8 1"/>
<polygon points="423.3,347.09999999999997 441.40000000000003,347.09999999999997 441.40000000000003,345.2 446.8,348.9 441.40000000000003,352.59999999999997 441.40000000000003,350.7 423.3,350.7" fill="#de6414" stroke="#56708a" stroke-width="0.35"/>
<polygon points="508.3,349.0 525.8000000000001,349.0 525.8000000000001,347.1 531.2,350.8 525.8000000000001,354.5 525.8000000000001,352.6 508.3,352.6" fill="#de6414" stroke="#56708a" stroke-width="0.35"/>
<rect x="457.80" y="327.80" width="43.10" height="37.70" fill="#ebebeb"/>
<polygon points="468,328.2 500.5,343 492,365.3 458.2,352" fill="#f6f6f6"/>
<g stroke="#707070" stroke-width="3.0" stroke-linecap="butt">
<line x1="462.60" y1="353.00" x2="477.00" y2="333.80"/>
<line x1="466.60" y1="355.20" x2="481.00" y2="336.00"/>
<line x1="470.60" y1="357.40" x2="485.00" y2="338.20"/>
<line x1="474.60" y1="359.60" x2="489.00" y2="340.40"/>
<line x1="478.60" y1="361.80" x2="493.00" y2="342.60"/>
<line x1="482.60" y1="364.00" x2="497.00" y2="344.80"/>
</g>
<g stroke="#a6a6a6" stroke-width="1.5">
<line x1="462.60" y1="353.00" x2="477.00" y2="333.80"/>
<line x1="466.60" y1="355.20" x2="481.00" y2="336.00"/>
<line x1="470.60" y1="357.40" x2="485.00" y2="338.20"/>
<line x1="474.60" y1="359.60" x2="489.00" y2="340.40"/>
<line x1="478.60" y1="361.80" x2="493.00" y2="342.60"/>
<line x1="482.60" y1="364.00" x2="497.00" y2="344.80"/>
</g>
<circle cx="471.3" cy="328.5" r="0.8" fill="#555"/>
<text x="478.7" y="374.9" font-size="5.8" text-anchor="middle" font-family="'Liberation Sans', 'DejaVu Sans', sans-serif" fill="#222" stroke="#222" stroke-width="0.12" textLength="48" lengthAdjust="spacingAndGlyphs">Sensing platform</text>
<text x="479.2" y="382" font-size="5.8" text-anchor="middle" font-family="'Liberation Sans', 'DejaVu Sans', sans-serif" fill="#222" stroke="#222" stroke-width="0.12" textLength="49" lengthAdjust="spacingAndGlyphs">1"X1" - 35 Devices</text>
<rect x="536.4" y="292.4" width="144.5" height="103.3" fill="#fff" stroke="#e2e2e2" stroke-width="0.6"/>
<polyline points="560.60,382.20 566.27,378.24 571.94,374.28 577.61,370.32 583.28,366.36 588.95,362.40 594.62,358.43 600.29,354.47 605.96,350.51 611.63,346.55 617.30,342.59 622.97,338.63 628.64,334.67 634.31,330.71 639.98,326.75 645.65,322.79 651.32,318.83 656.99,314.86 662.66,310.90 668.33,306.94 674.00,302.98" fill="none" stroke="#111" stroke-width="0.6"/>
<rect x="559.45" y="381.05" width="2.30" height="2.30" fill="#111"/>
<rect x="565.12" y="377.09" width="2.30" height="2.30" fill="#111"/>
<rect x="570.79" y="373.13" width="2.30" height="2.30" fill="#111"/>
<rect x="576.46" y="369.17" width="2.30" height="2.30" fill="#111"/>
<rect x="582.13" y="365.21" width="2.30" height="2.30" fill="#111"/>
<rect x="587.80" y="361.25" width="2.30" height="2.30" fill="#111"/>
<rect x="593.47" y="357.28" width="2.30" height="2.30" fill="#111"/>
<rect x="599.14" y="353.32" width="2.30" height="2.30" fill="#111"/>
<rect x="604.81" y="349.36" width="2.30" height="2.30" fill="#111"/>
<rect x="610.48" y="345.40" width="2.30" height="2.30" fill="#111"/>
<rect x="616.15" y="341.44" width="2.30" height="2.30" fill="#111"/>
<rect x="621.82" y="337.48" width="2.30" height="2.30" fill="#111"/>
<rect x="627.49" y="333.52" width="2.30" height="2.30" fill="#111"/>
<rect x="633.16" y="329.56" width="2.30" height="2.30" fill="#111"/>
<rect x="638.83" y="325.60" width="2.30" height="2.30" fill="#111"/>
<rect x="644.50" y="321.64" width="2.30" height="2.30" fill="#111"/>
<rect x="650.17" y="317.68" width="2.30" height="2.30" fill="#111"/>
<rect x="655.84" y="313.71" width="2.30" height="2.30" fill="#111"/>
<rect x="661.51" y="309.75" width="2.30" height="2.30" fill="#111"/>
<rect x="667.18" y="305.79" width="2.30" height="2.30" fill="#111"/>
<rect x="672.85" y="301.83" width="2.30" height="2.30" fill="#111"/>
<polyline points="560.60,382.20 566.27,378.86 571.94,375.53 577.61,372.19 583.28,368.85 588.95,365.51 594.62,362.18 600.29,358.84 605.96,355.50 611.63,352.17 617.30,348.83 622.97,345.49 628.64,342.15 634.31,338.82 639.98,335.48 645.65,332.14 651.32,328.80 656.99,325.47 662.66,322.13 668.33,318.79 674.00,315.46" fill="none" stroke="#f02020" stroke-width="0.6"/>
<rect x="559.45" y="381.05" width="2.30" height="2.30" fill="#f02020"/>
<rect x="565.12" y="377.71" width="2.30" height="2.30" fill="#f02020"/>
<rect x="570.79" y="374.38" width="2.30" height="2.30" fill="#f02020"/>
<rect x="576.46" y="371.04" width="2.30" height="2.30" fill="#f02020"/>
<rect x="582.13" y="367.70" width="2.30" height="2.30" fill="#f02020"/>
<rect x="587.80" y="364.36" width="2.30" height="2.30" fill="#f02020"/>
<rect x="593.47" y="361.03" width="2.30" height="2.30" fill="#f02020"/>
<rect x="599.14" y="357.69" width="2.30" height="2.30" fill="#f02020"/>
<rect x="604.81" y="354.35" width="2.30" height="2.30" fill="#f02020"/>
<rect x="610.48" y="351.02" width="2.30" height="2.30" fill="#f02020"/>
<rect x="616.15" y="347.68" width="2.30" height="2.30" fill="#f02020"/>
<rect x="621.82" y="344.34" width="2.30" height="2.30" fill="#f02020"/>
<rect x="627.49" y="341.00" width="2.30" height="2.30" fill="#f02020"/>
<rect x="633.16" y="337.67" width="2.30" height="2.30" fill="#f02020"/>
<rect x="638.83" y="334.33" width="2.30" height="2.30" fill="#f02020"/>
<rect x="644.50" y="330.99" width="2.30" height="2.30" fill="#f02020"/>
<rect x="650.17" y="327.65" width="2.30" height="2.30" fill="#f02020"/>
<rect x="655.84" y="324.32" width="2.30" height="2.30" fill="#f02020"/>
<rect x="661.51" y="320.98" width="2.30" height="2.30" fill="#f02020"/>
<rect x="667.18" y="317.64" width="2.30" height="2.30" fill="#f02020"/>
<rect x="672.85" y="314.31" width="2.30" height="2.30" fill="#f02020"/>
<polyline points="560.60,382.20 566.27,380.34 571.94,378.40 577.61,376.38 583.28,374.30 588.95,372.14 594.62,369.90 600.29,367.59 605.96,365.21 611.63,362.75 617.30,360.22 622.97,357.62 628.64,354.94 634.31,352.19 639.98,349.36 645.65,346.46 651.32,343.48 656.99,340.43 662.66,337.31 668.33,334.11 674.00,330.84" fill="none" stroke="#2020f0" stroke-width="0.6"/>
<rect x="559.45" y="381.05" width="2.30" height="2.30" fill="#2020f0"/>
<rect x="565.12" y="379.19" width="2.30" height="2.30" fill="#2020f0"/>
<rect x="570.79" y="377.25" width="2.30" height="2.30" fill="#2020f0"/>
<rect x="576.46" y="375.23" width="2.30" height="2.30" fill="#2020f0"/>
<rect x="582.13" y="373.15" width="2.30" height="2.30" fill="#2020f0"/>
<rect x="587.80" y="370.99" width="2.30" height="2.30" fill="#2020f0"/>
<rect x="593.47" y="368.75" width="2.30" height="2.30" fill="#2020f0"/>
<rect x="599.14" y="366.44" width="2.30" height="2.30" fill="#2020f0"/>
<rect x="604.81" y="364.06" width="2.30" height="2.30" fill="#2020f0"/>
<rect x="610.48" y="361.60" width="2.30" height="2.30" fill="#2020f0"/>
<rect x="616.15" y="359.07" width="2.30" height="2.30" fill="#2020f0"/>
<rect x="621.82" y="356.47" width="2.30" height="2.30" fill="#2020f0"/>
<rect x="627.49" y="353.79" width="2.30" height="2.30" fill="#2020f0"/>
<rect x="633.16" y="351.04" width="2.30" height="2.30" fill="#2020f0"/>
<rect x="638.83" y="348.21" width="2.30" height="2.30" fill="#2020f0"/>
<rect x="644.50" y="345.31" width="2.30" height="2.30" fill="#2020f0"/>
<rect x="650.17" y="342.33" width="2.30" height="2.30" fill="#2020f0"/>
<rect x="655.84" y="339.28" width="2.30" height="2.30" fill="#2020f0"/>
<rect x="661.51" y="336.16" width="2.30" height="2.30" fill="#2020f0"/>
<rect x="667.18" y="332.96" width="2.30" height="2.30" fill="#2020f0"/>
<rect x="672.85" y="329.69" width="2.30" height="2.30" fill="#2020f0"/>
<polyline points="560.60,382.20 566.27,379.89 571.94,377.58 577.61,375.27 583.28,372.97 588.95,370.66 594.62,368.35 600.29,366.04 605.96,363.73 611.63,361.42 617.30,359.12 622.97,356.81 628.64,354.50 634.31,352.19 639.98,349.88 645.65,347.57 651.32,345.26 656.99,342.96 662.66,340.65 668.33,338.34 674.00,336.03" fill="none" stroke="#1a8a8a" stroke-width="0.6"/>
<rect x="559.45" y="381.05" width="2.30" height="2.30" fill="#1a8a8a"/>
<rect x="565.12" y="378.74" width="2.30" height="2.30" fill="#1a8a8a"/>
<rect x="570.79" y="376.43" width="2.30" height="2.30" fill="#1a8a8a"/>
<rect x="576.46" y="374.12" width="2.30" height="2.30" fill="#1a8a8a"/>
<rect x="582.13" y="371.82" width="2.30" height="2.30" fill="#1a8a8a"/>
<rect x="587.80" y="369.51" width="2.30" height="2.30" fill="#1a8a8a"/>
<rect x="593.47" y="367.20" width="2.30" height="2.30" fill="#1a8a8a"/>
<rect x="599.14" y="364.89" width="2.30" height="2.30" fill="#1a8a8a"/>
<rect x="604.81" y="362.58" width="2.30" height="2.30" fill="#1a8a8a"/>
<rect x="610.48" y="360.27" width="2.30" height="2.30" fill="#1a8a8a"/>
<rect x="616.15" y="357.97" width="2.30" height="2.30" fill="#1a8a8a"/>
<rect x="621.82" y="355.66" width="2.30" height="2.30" fill="#1a8a8a"/>
<rect x="627.49" y="353.35" width="2.30" height="2.30" fill="#1a8a8a"/>
<rect x="633.16" y="351.04" width="2.30" height="2.30" fill="#1a8a8a"/>
<rect x="638.83" y="348.73" width="2.30" height="2.30" fill="#1a8a8a"/>
<rect x="644.50" y="346.42" width="2.30" height="2.30" fill="#1a8a8a"/>
<rect x="650.17" y="344.11" width="2.30" height="2.30" fill="#1a8a8a"/>
<rect x="655.84" y="341.81" width="2.30" height="2.30" fill="#1a8a8a"/>
<rect x="661.51" y="339.50" width="2.30" height="2.30" fill="#1a8a8a"/>
<rect x="667.18" y="337.19" width="2.30" height="2.30" fill="#1a8a8a"/>
<rect x="672.85" y="334.88" width="2.30" height="2.30" fill="#1a8a8a"/>
<polyline points="560.60,382.20 566.27,380.48 571.94,378.77 577.61,377.05 583.28,375.33 588.95,373.61 594.62,371.90 600.29,370.18 605.96,368.46 611.63,366.75 617.30,365.03 622.97,363.31 628.64,361.59 634.31,359.88 639.98,358.16 645.65,356.44 651.32,354.72 656.99,353.01 662.66,351.29 668.33,349.57 674.00,347.86" fill="none" stroke="#f020f0" stroke-width="0.6"/>
<rect x="559.45" y="381.05" width="2.30" height="2.30" fill="#f020f0"/>
<rect x="565.12" y="379.33" width="2.30" height="2.30" fill="#f020f0"/>
<rect x="570.79" y="377.62" width="2.30" height="2.30" fill="#f020f0"/>
<rect x="576.46" y="375.90" width="2.30" height="2.30" fill="#f020f0"/>
<rect x="582.13" y="374.18" width="2.30" height="2.30" fill="#f020f0"/>
<rect x="587.80" y="372.46" width="2.30" height="2.30" fill="#f020f0"/>
<rect x="593.47" y="370.75" width="2.30" height="2.30" fill="#f020f0"/>
<rect x="599.14" y="369.03" width="2.30" height="2.30" fill="#f020f0"/>
<rect x="604.81" y="367.31" width="2.30" height="2.30" fill="#f020f0"/>
<rect x="610.48" y="365.60" width="2.30" height="2.30" fill="#f020f0"/>
<rect x="616.15" y="363.88" width="2.30" height="2.30" fill="#f020f0"/>
<rect x="621.82" y="362.16" width="2.30" height="2.30" fill="#f020f0"/>
<rect x="627.49" y="360.44" width="2.30" height="2.30" fill="#f020f0"/>
<rect x="633.16" y="358.73" width="2.30" height="2.30" fill="#f020f0"/>
<rect x="638.83" y="357.01" width="2.30" height="2.30" fill="#f020f0"/>
<rect x="644.50" y="355.29" width="2.30" height="2.30" fill="#f020f0"/>
<rect x="650.17" y="353.57" width="2.30" height="2.30" fill="#f020f0"/>
<rect x="655.84" y="351.86" width="2.30" height="2.30" fill="#f020f0"/>
<rect x="661.51" y="350.14" width="2.30" height="2.30" fill="#f020f0"/>
<rect x="667.18" y="348.42" width="2.30" height="2.30" fill="#f020f0"/>
<rect x="672.85" y="346.71" width="2.30" height="2.30" fill="#f020f0"/>
<rect x="560.4" y="300.8" width="116.0" height="81.19999999999999" fill="none" stroke="#9a9a9a" stroke-width="0.6"/>
<line x1="560.60" y1="382.00" x2="560.60" y2="380.50" stroke="#555" stroke-width="0.5"/>
<text x="560.60" y="387.30" font-size="3.6" text-anchor="middle" font-weight="bold" font-family="'Liberation Sans', sans-serif" fill="#333">0.0</text>
<line x1="588.95" y1="382.00" x2="588.95" y2="380.50" stroke="#555" stroke-width="0.5"/>
<text x="588.95" y="387.30" font-size="3.6" text-anchor="middle" font-weight="bold" font-family="'Liberation Sans', sans-serif" fill="#333">0.5</text>
<line x1="617.30" y1="382.00" x2="617.30" y2="380.50" stroke="#555" stroke-width="0.5"/>
<text x="617.30" y="387.30" font-size="3.6" text-anchor="middle" font-weight="bold" font-family="'Liberation Sans', sans-serif" fill="#333">1.0</text>
<line x1="645.65" y1="382.00" x2="645.65" y2="380.50" stroke="#555" stroke-width="0.5"/>
<text x="645.65" y="387.30" font-size="3.6" text-anchor="middle" font-weight="bold" font-family="'Liberation Sans', sans-serif" fill="#333">1.5</text>
<line x1="674.00" y1="382.00" x2="674.00" y2="380.50" stroke="#555" stroke-width="0.5"/>
<text x="674.00" y="387.30" font-size="3.6" text-anchor="middle" font-weight="bold" font-family="'Liberation Sans', sans-serif" fill="#333">2.0</text>
<line x1="560.40" y1="382.20" x2="561.90" y2="382.20" stroke="#555" stroke-width="0.5"/>
<text x="558.60" y="383.46" font-size="3.5" text-anchor="end" font-weight="bold" font-family="'Liberation Sans', sans-serif" fill="#333">0.00</text>
<line x1="560.40" y1="357.90" x2="561.90" y2="357.90" stroke="#555" stroke-width="0.5"/>
<text x="557.2" y="359.10" font-size="3.5" text-anchor="end" font-weight="bold" font-family="'Liberation Sans', sans-serif" fill="#333">1.50x10<tspan font-size="2.4" dy="-1.3">-7</tspan></text>
<line x1="560.40" y1="333.60" x2="561.90" y2="333.60" stroke="#555" stroke-width="0.5"/>
<text x="557.2" y="334.80" font-size="3.5" text-anchor="end" font-weight="bold" font-family="'Liberation Sans', sans-serif" fill="#333">3.00x10<tspan font-size="2.4" dy="-1.3">-7</tspan></text>
<line x1="560.40" y1="309.30" x2="561.90" y2="309.30" stroke="#555" stroke-width="0.5"/>
<text x="557.2" y="310.50" font-size="3.5" text-anchor="end" font-weight="bold" font-family="'Liberation Sans', sans-serif" fill="#333">4.50x10<tspan font-size="2.4" dy="-1.3">-7</tspan></text>
<text x="617" y="391.6" font-size="3.8" text-anchor="middle" font-weight="bold" font-family="'Liberation Sans', sans-serif" fill="#333">Voltage (V)</text>
<text x="538.6" y="341.4" dy="1.3" font-size="3.8" text-anchor="middle" font-weight="bold" font-family="'Liberation Sans', sans-serif" fill="#333" transform="rotate(-90 538.6 341.4)">Current (A)</text>
<line x1="567.30" y1="308.60" x2="575.40" y2="308.60" stroke="#111" stroke-width="0.5"/>
<rect x="570.70" y="307.60" width="2.00" height="2.00" fill="#111"/>
<text x="577" y="310.00" font-size="3.9" font-family="'Liberation Sans', sans-serif" fill="#555">2μM VB-6</text>
<line x1="567.30" y1="313.40" x2="575.40" y2="313.40" stroke="#f02020" stroke-width="0.5"/>
<rect x="570.70" y="312.40" width="2.00" height="2.00" fill="#f02020"/>
<text x="577" y="314.80" font-size="3.9" font-family="'Liberation Sans', sans-serif" fill="#555">4μM VB-6</text>
<line x1="567.30" y1="318.00" x2="575.40" y2="318.00" stroke="#2020f0" stroke-width="0.5"/>
<rect x="570.70" y="317.00" width="2.00" height="2.00" fill="#2020f0"/>
<text x="577" y="319.40" font-size="3.9" font-family="'Liberation Sans', sans-serif" fill="#555">6μM VB-6</text>
<line x1="567.30" y1="322.70" x2="575.40" y2="322.70" stroke="#1a8a8a" stroke-width="0.5"/>
<rect x="570.70" y="321.70" width="2.00" height="2.00" fill="#1a8a8a"/>
<text x="577" y="324.10" font-size="3.9" font-family="'Liberation Sans', sans-serif" fill="#555">8μM VB-6</text>
<line x1="567.30" y1="327.40" x2="575.40" y2="327.40" stroke="#f020f0" stroke-width="0.5"/>
<rect x="570.70" y="326.40" width="2.00" height="2.00" fill="#f020f0"/>
<text x="577" y="328.80" font-size="3.9" font-family="'Liberation Sans', sans-serif" fill="#555">10μM VB-6</text>
</svg>
</body></html>
